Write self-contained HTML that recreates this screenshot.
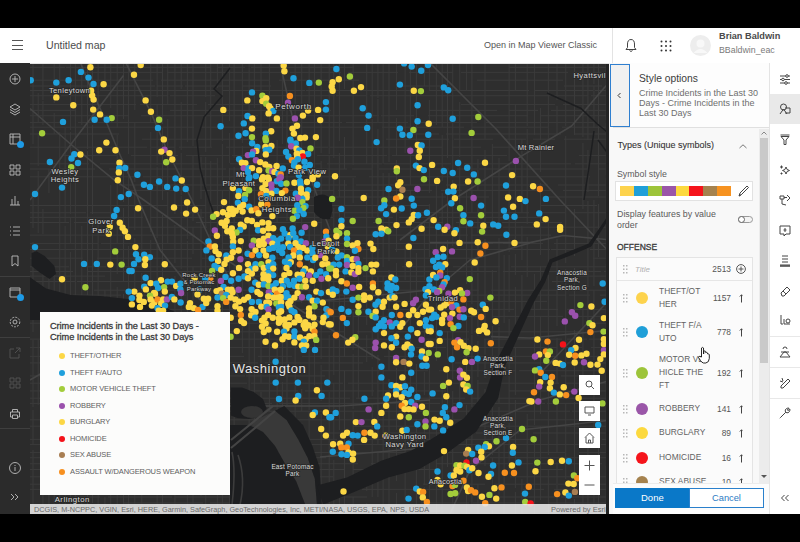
<!DOCTYPE html>
<html><head><meta charset="utf-8">
<style>
*{box-sizing:border-box;margin:0;padding:0}
html,body{width:800px;height:542px;overflow:hidden;background:#000;font-family:"Liberation Sans",sans-serif;position:relative}
.abs{position:absolute}
.t{position:absolute;white-space:nowrap;line-height:1}
#hdr{left:0;top:28px;width:800px;height:36px;background:#fff;border-bottom:1px solid #e3e3e3}
#ltb{left:0;top:63px;width:30px;height:451px;background:#2b2b2b}
#map{left:30px;top:64px;width:582px;height:450px;background:#2f2f2f;overflow:hidden}
#panel{left:609px;top:63px;width:160px;height:451px;background:#f8f8f8;overflow:hidden}
#rtb{left:769px;top:63px;width:31px;height:451px;background:#fff;border-left:1px solid #e4e4e4}
svg{position:absolute;overflow:visible}
.ic{stroke:#bdbdbd;fill:none;stroke-width:0.9}
.ri{stroke:#444;fill:none;stroke-width:1}
.sep{position:absolute;left:0;width:30px;height:1px;background:#3f3f3f}
.rsep{position:absolute;left:0;width:31px;height:1px;background:#e8e8e8}
.li{position:relative;height:16.5px;font-size:7.5px;line-height:16.5px;color:#606060;padding-left:11px;white-space:nowrap;letter-spacing:-0.12px}
.li i{position:absolute;left:0;top:5px;width:6px;height:6px;border-radius:50%}
.ctl{position:absolute;left:549px;width:21px;height:20px;background:#fff}
</style></head><body>
<!-- header -->
<div id="hdr" class="abs">
  <div class="abs" style="left:12px;top:12px;width:11px;height:1px;background:#555"></div>
  <div class="abs" style="left:12px;top:17px;width:11px;height:1px;background:#555"></div>
  <div class="abs" style="left:12px;top:21px;width:11px;height:1px;background:#555"></div>
  <div class="t" style="left:46px;top:12px;font-size:10.6px;color:#4c4c4c">Untitled map</div>
  <div class="t" style="left:484px;top:13px;font-size:9px;color:#555">Open in Map Viewer Classic</div>
  <div class="abs" style="left:612px;top:0;width:1px;height:35px;background:#e3e3e3"></div>
  <svg style="left:624px;top:10px" width="14" height="15" viewBox="0 0 14 15"><path class="ri" d="M7 1.5 C4.5 1.5 3.5 3.5 3.5 6 L3.5 9.5 L2 11.5 L12 11.5 L10.5 9.5 L10.5 6 C10.5 3.5 9.5 1.5 7 1.5 Z M5.5 12.5 Q7 14.5 8.5 12.5" stroke="#333"/></svg>
  <svg style="left:660px;top:12px" width="12" height="12" viewBox="0 0 12 12" fill="#333"><circle cx="1.5" cy="1.5" r="1"/><circle cx="6" cy="1.5" r="1"/><circle cx="10.5" cy="1.5" r="1"/><circle cx="1.5" cy="6" r="1"/><circle cx="6" cy="6" r="1"/><circle cx="10.5" cy="6" r="1"/><circle cx="1.5" cy="10.5" r="1"/><circle cx="6" cy="10.5" r="1"/><circle cx="10.5" cy="10.5" r="1"/></svg>
  <div class="abs" style="left:690px;top:7px;width:21px;height:21px;border-radius:50%;background:#ededed"></div>
  <svg style="left:690px;top:7px" width="21" height="21" viewBox="0 0 21 21"><circle cx="10.5" cy="8.5" r="4" fill="#f8f8f8"/><path d="M3.5 18 Q10.5 10 17.5 18" fill="#f8f8f8"/></svg>
  <div class="t" style="left:719px;top:4px;font-size:9.2px;font-weight:bold;color:#4a4a4a">Brian Baldwin</div>
  <div class="t" style="left:719px;top:18px;font-size:8.8px;color:#7a7a7a">BBaldwin_eac</div>
</div>

<!-- left toolbar -->
<div id="ltb" class="abs">
  <svg style="left:9px;top:10px" width="12" height="12"><circle class="ic" cx="6" cy="6" r="5"/><path class="ic" d="M6 3v6M3 6h6"/></svg>
  <svg style="left:9px;top:40px" width="12" height="12"><path class="ic" d="M6 1 L11 4 L6 7 L1 4 Z M1 6.5 L6 9.5 L11 6.5 M1 9 L6 12 L11 9"/></svg>
  <svg style="left:9px;top:70px" width="12" height="12"><path class="ic" d="M1 1h10v10h-10z M1 4h10 M4 1v10"/></svg>
  <div class="abs" style="left:17px;top:78px;width:7px;height:7px;border-radius:50%;background:#1d9ae6"></div>
  <svg style="left:9px;top:101px" width="12" height="12"><path class="ic" d="M1 1h4v4h-4z M7 1h4v4h-4z M1 7h4v4h-4z M7 7h4v4h-4z"/></svg>
  <svg style="left:9px;top:131px" width="12" height="12"><path class="ic" d="M1 11h10 M3 11v-6 M6 11v-9 M9 11v-4"/></svg>
  <svg style="left:9px;top:162px" width="12" height="12"><path class="ic" d="M4 2h7 M4 6h7 M4 10h7 M1 2h1 M1 6h1 M1 10h1"/></svg>
  <svg style="left:9px;top:192px" width="12" height="12"><path class="ic" d="M3 1h6v10l-3-2.5l-3 2.5z"/></svg>
  <div class="sep" style="top:213px"></div>
  <svg style="left:9px;top:223px" width="12" height="12"><path class="ic" d="M1 2h10v9h-10z M1 4h10"/></svg>
  <div class="abs" style="left:17px;top:231px;width:7px;height:7px;border-radius:50%;background:#1d9ae6"></div>
  <svg style="left:9px;top:253px" width="12" height="12"><circle class="ic" cx="6" cy="6" r="2"/><circle class="ic" cx="6" cy="6" r="4.8" stroke-dasharray="2 1.2"/></svg>
  <div class="sep" style="top:274px"></div>
  <svg style="left:9px;top:284px" width="12" height="12"><path class="ic" style="stroke:#555" d="M5 2h-4v9h9v-4 M7 1h4v4 M11 1l-5 5"/></svg>
  <svg style="left:9px;top:314px" width="12" height="12"><path class="ic" style="stroke:#555" d="M1 1h4v4h-4z M7 1h4v4h-4z M1 7h4v4h-4z M7 7h4v4h-4z"/></svg>
  <svg style="left:9px;top:345px" width="12" height="12"><path class="ic" d="M3.5 4V1.5h5V4 M1.5 4h9v5h-2 M3.5 9h-2v-5"/><path class="ic" d="M3.5 7h5v3.5h-5z" fill="#2b2b2b"/></svg>
  <div class="sep" style="top:365px"></div>
  <svg style="left:9px;top:399px" width="12" height="12"><circle class="ic" cx="6" cy="6" r="5.5"/><path class="ic" d="M6 5v4 M6 3v1"/></svg>
  <svg style="left:10px;top:430px" width="10" height="8"><path class="ic" d="M1 1l3 3l-3 3 M5 1l3 3l-3 3"/></svg>
</div>

<!-- map -->
<div id="map" class="abs">
<svg style="left:0;top:0" width="582" height="450" viewBox="30 64 582 450">
<defs><pattern id="grid" width="7" height="7" patternUnits="userSpaceOnUse"><path d="M0 0.5H7M0.5 0V7" stroke="#3b3b3b" stroke-width="1" fill="none"/></pattern></defs>
<rect x="30" y="64" width="582" height="450" fill="#2e2e2e"/>
<path d="M30 67.3H65M66 67.3H140M141 67.3H211M218 67.3H245M251 67.3H354M509 67.3H612M84 72.3H162M167 72.3H242M243 72.3H284M290 72.3H341M348 72.3H398M409 72.3H453M461 72.3H568M573 72.3H612M30 80.2H65M66 80.2H153M161 80.2H269M279 80.2H359M477 80.2H563M30 86.0H89M89 86.0H155M157 86.0H183M185 86.0H229M243 86.0H271M400 86.0H448M564 86.0H602M605 86.0H612M30 90.5H92M100 90.5H216M223 90.5H305M306 90.5H416M429 90.5H529M535 90.5H565M566 90.5H593M595 90.5H612M30 95.7H60M61 95.7H168M170 95.7H215M268 95.7H335M336 95.7H366M370 95.7H473M473 95.7H588M591 95.7H612M30 104.6H136M140 104.6H197M208 104.6H282M461 104.6H555M563 104.6H612M30 110.4H76M170 110.4H285M289 110.4H331M429 110.4H497M509 110.4H538M551 110.4H612M30 115.7H129M141 115.7H258M264 115.7H379M381 115.7H414M428 115.7H528M541 115.7H612M30 122.6H63M78 122.6H163M252 122.6H294M298 122.6H342M346 122.6H408M421 122.6H477M486 122.6H596M610 122.6H612M30 127.2H94M94 127.2H194M201 127.2H294M298 127.2H370M382 127.2H413M416 127.2H464M472 127.2H548M562 127.2H612M30 134.0H119M406 134.0H439M446 134.0H473M474 134.0H561M575 134.0H610M142 139.2H257M386 139.2H449M454 139.2H493M504 139.2H526M533 139.2H555M564 139.2H612M30 147.2H147M151 147.2H175M179 147.2H212M226 147.2H328M330 147.2H442M452 147.2H481M492 147.2H554M63 155.6H117M131 155.6H178M186 155.6H230M232 155.6H257M262 155.6H312M317 155.6H387M392 155.6H414M414 155.6H507M579 155.6H612M30 163.8H89M100 163.8H218M230 163.8H321M327 163.8H382M384 163.8H411M415 163.8H451M464 163.8H571M575 163.8H612M30 169.0H95M109 169.0H226M230 169.0H347M352 169.0H372M379 169.0H449M457 169.0H477M479 169.0H539M539 169.0H589M598 169.0H612M30 176.8H138M143 176.8H261M272 176.8H356M369 176.8H478M489 176.8H590M119 185.0H208M208 185.0H242M243 185.0H347M356 185.0H439M446 185.0H467M478 185.0H548M558 185.0H585M588 185.0H612M131 190.4H190M200 190.4H297M306 190.4H334M338 190.4H432M441 190.4H462M466 190.4H553M563 190.4H612M263 197.0H328M331 197.0H446M455 197.0H489M544 197.0H612M30 205.5H99M99 205.5H168M172 205.5H206M211 205.5H315M326 205.5H430M540 205.5H597M30 212.7H86M90 212.7H115M180 212.7H226M300 212.7H401M415 212.7H529M540 212.7H565M571 212.7H612M30 217.4H143M150 217.4H204M215 217.4H333M343 217.4H393M399 217.4H435M439 217.4H549M30 222.5H69M74 222.5H103M196 222.5H257M265 222.5H322M373 222.5H443M456 222.5H498M502 222.5H562M128 227.2H207M338 227.2H455M457 227.2H492M503 227.2H612M30 235.1H96M96 235.1H195M208 235.1H293M295 235.1H340M350 235.1H382M390 235.1H468M471 235.1H551M30 243.6H98M101 243.6H217M222 243.6H244M254 243.6H316M326 243.6H439M439 243.6H493M503 243.6H543M554 243.6H612M30 249.5H132M135 249.5H231M246 249.5H315M319 249.5H380M395 249.5H429M432 249.5H550M551 249.5H577M590 249.5H612M30 258.2H83M97 258.2H192M202 258.2H259M264 258.2H301M363 258.2H479M593 258.2H612M30 266.8H69M83 266.8H106M118 266.8H215M402 266.8H448M453 266.8H500M511 266.8H612M30 271.5H73M88 271.5H203M207 271.5H270M333 271.5H435M445 271.5H497M503 271.5H601M604 271.5H612M30 276.1H105M232 276.1H261M268 276.1H359M363 276.1H424M576 276.1H612M30 281.5H75M77 281.5H185M311 281.5H430M552 281.5H576M94 290.2H140M154 290.2H185M194 290.2H236M238 290.2H278M287 290.2H372M373 290.2H425M428 290.2H479M491 290.2H566M568 290.2H612M30 295.1H66M73 295.1H121M135 295.1H186M268 295.1H325M336 295.1H376M458 295.1H566M569 295.1H590M600 295.1H612M30 301.3H100M262 301.3H302M316 301.3H433M434 301.3H547M30 309.3H72M85 309.3H188M191 309.3H251M257 309.3H289M300 309.3H410M418 309.3H514M526 309.3H558M567 309.3H612M30 316.4H93M99 316.4H163M172 316.4H241M253 316.4H351M353 316.4H421M423 316.4H486M492 316.4H563M573 316.4H601M30 323.2H55M61 323.2H176M189 323.2H309M586 323.2H612M153 331.8H199M204 331.8H228M230 331.8H344M357 331.8H394M396 331.8H469M474 331.8H582M590 331.8H612M30 339.1H89M93 339.1H212M218 339.1H314M317 339.1H411M424 339.1H469M484 339.1H562M567 339.1H587M589 339.1H612M30 347.6H63M73 347.6H95M101 347.6H131M135 347.6H213M216 347.6H298M300 347.6H414M416 347.6H446M459 347.6H557M561 347.6H582M591 347.6H612M30 356.3H123M137 356.3H161M167 356.3H211M223 356.3H244M258 356.3H292M302 356.3H372M384 356.3H422M463 356.3H555M567 356.3H612M30 362.9H73M76 362.9H100M211 362.9H258M265 362.9H363M455 362.9H563M567 362.9H610M141 370.7H230M322 370.7H428M439 370.7H516M519 370.7H601M30 375.9H53M67 375.9H121M122 375.9H146M155 375.9H245M246 375.9H325M561 375.9H592M30 383.2H133M137 383.2H167M178 383.2H219M225 383.2H247M251 383.2H343M348 383.2H464M477 383.2H559M565 383.2H612M30 390.9H104M148 390.9H168M180 390.9H298M305 390.9H374M377 390.9H446M509 390.9H551M558 390.9H589M590 390.9H612M30 398.2H86M91 398.2H201M214 398.2H236M240 398.2H350M356 398.2H465M471 398.2H545M556 398.2H612M30 403.4H134M145 403.4H182M194 403.4H272M279 403.4H387M390 403.4H440M453 403.4H488M492 403.4H545M547 403.4H600M132 411.2H225M228 411.2H312M315 411.2H374M380 411.2H479M487 411.2H570M572 411.2H612M30 419.8H93M104 419.8H166M177 419.8H285M296 419.8H401M411 419.8H476M485 419.8H515M527 419.8H612M30 426.2H96M192 426.2H277M353 426.2H427M439 426.2H553M554 426.2H612M186 433.0H274M323 433.0H349M355 433.0H376M383 433.0H473M476 433.0H519M533 433.0H606M30 439.3H71M83 439.3H184M191 439.3H267M282 439.3H337M349 439.3H451M455 439.3H530M602 439.3H612M30 444.6H50M54 444.6H99M106 444.6H169M287 444.6H386M398 444.6H481M482 444.6H597M601 444.6H612M30 452.6H85M98 452.6H197M211 452.6H292M302 452.6H411M424 452.6H463M471 452.6H565M579 452.6H612M30 457.7H99M106 457.7H141M222 457.7H326M490 457.7H574M574 457.7H612M30 463.7H148M155 463.7H265M276 463.7H358M371 463.7H428M436 463.7H533M540 463.7H602M30 469.5H133M140 469.5H187M202 469.5H288M293 469.5H344M353 469.5H437M538 469.5H563M611 469.5H612M30 476.8H112M122 476.8H202M205 476.8H292M303 476.8H333M510 476.8H586M590 476.8H612M30 484.2H143M152 484.2H176M272 484.2H294M423 484.2H485M494 484.2H536M536 484.2H556M558 484.2H612M30 489.3H52M55 489.3H149M150 489.3H247M260 489.3H353M362 489.3H453M523 489.3H544M554 489.3H612M74 497.0H100M108 497.0H172M175 497.0H274M284 497.0H367M483 497.0H560M561 497.0H612M123 503.0H203M210 503.0H318M421 503.0H469M473 503.0H535M548 503.0H612M30 511.2H137M256 511.2H368M369 511.2H444M546 511.2H612M33.0 64V144M33.0 190V228M33.0 242V332M33.0 340V407M33.0 410V444M33.0 450V514M38.2 93V122M38.2 133V166M38.2 171V233M38.2 340V405M42.9 64V100M42.9 101V125M42.9 209V234M42.9 273V338M42.9 353V426M42.9 481V514M48.9 169V193M48.9 276V307M48.9 321V396M48.9 404V485M48.9 490V514M54.2 64V103M54.2 113V134M54.2 271V303M54.2 408V464M54.2 476V514M59.7 64V89M59.7 132V185M59.7 189V277M59.7 279V338M59.7 382V474M59.7 477V514M65.1 128V222M65.1 226V318M65.1 373V457M65.1 487V514M70.6 64V130M70.6 132V214M70.6 217V243M70.6 252V312M70.6 315V384M70.6 396V463M70.6 464V514M75.3 64V149M75.3 161V251M75.3 251V344M75.3 357V398M75.3 411V460M75.3 465V514M81.8 64V125M81.8 226V303M81.8 353V413M81.8 421V484M81.8 499V514M87.5 64V149M87.5 151V227M87.5 227V295M87.5 303V379M87.5 392V469M87.5 471V514M92.5 64V116M92.5 125V214M92.5 223V303M92.5 315V410M92.5 416V503M92.5 509V514M98.1 64V111M98.1 222V310M98.1 418V472M98.1 477V514M104.9 64V86M104.9 290V313M104.9 317V391M104.9 399V493M104.9 497V514M110.7 64V108M110.7 185V227M110.7 235V267M110.7 269V312M110.7 317V356M110.7 364V451M110.7 460V514M117.2 64V128M117.2 135V180M117.2 183V244M117.2 253V274M117.2 287V326M117.2 380V462M117.2 463V514M123.5 64V119M123.5 170V202M123.5 208V282M123.5 294V380M123.5 391V471M123.5 478V514M128.6 64V154M128.6 165V232M128.6 246V312M128.6 324V414M128.6 419V476M128.6 487V514M134.8 64V110M134.8 123V182M134.8 185V230M134.8 238V305M134.8 377V474M134.8 480V514M141.8 206V268M141.8 273V322M141.8 327V423M141.8 431V459M141.8 465V514M150.7 64V123M150.7 132V232M150.7 240V325M157.1 64V97M157.1 104V165M157.1 167V238M157.1 243V343M157.1 343V396M157.1 401V476M157.1 480V514M162.5 64V124M162.5 128V200M162.5 215V280M162.5 282V315M162.5 316V344M162.5 352V438M162.5 450V475M162.5 487V514M167.7 64V105M167.7 119V185M167.7 192V243M167.7 330V399M174.9 64V161M174.9 175V214M174.9 225V263M174.9 276V335M174.9 339V372M174.9 375V473M174.9 481V511M181.2 64V89M181.2 102V150M181.2 153V195M181.2 196V269M181.2 271V348M181.2 352V439M187.3 64V142M187.3 200V239M187.3 241V317M187.3 331V398M187.3 401V470M187.3 483V513M193.0 64V146M193.0 156V221M193.0 227V254M193.0 267V312M193.0 314V379M193.0 386V430M193.0 435V473M193.0 484V514M201.0 157V199M201.0 209V282M201.0 288V361M201.0 365V452M201.0 462V496M201.0 510V514M205.7 64V97M205.7 102V152M205.7 157V228M205.7 240V306M205.7 310V365M205.7 401V444M205.7 457V514M210.7 64V147M210.7 161V241M210.7 251V303M210.7 315V358M217.3 64V88M217.3 158V239M217.3 249V334M217.3 342V439M217.3 447V487M217.3 493V514M222.4 64V141M222.4 144V183M222.4 190V285M222.4 289V380M222.4 444V514M229.6 64V121M229.6 133V163M229.6 168V204M229.6 209V244M229.6 251V280M229.6 287V336M229.6 369V396M229.6 411V476M229.6 483V514M234.1 64V158M234.1 167V262M234.1 266V305M234.1 392V427M234.1 440V514M242.3 64V143M242.3 146V232M242.3 238V302M242.3 314V353M249.1 64V97M249.1 105V132M249.1 191V214M249.1 217V295M249.1 307V396M249.1 402V445M249.1 453V506M254.3 64V108M254.3 116V164M254.3 165V211M254.3 333V430M254.3 442V467M254.3 476V514M261.0 64V136M261.0 141V232M261.0 235V309M261.0 310V383M261.0 392V445M261.0 453V505M261.0 508V514M269.4 64V104M269.4 112V152M269.4 161V199M269.4 200V262M269.4 263V315M269.4 322V411M269.4 422V502M277.1 140V222M277.1 234V258M277.1 264V285M277.1 288V332M277.1 339V430M282.4 64V144M282.4 231V281M282.4 295V373M282.4 382V410M282.4 461V502M282.4 508V514M287.0 96V160M287.0 170V221M287.0 234V297M287.0 309V405M287.0 410V442M287.0 455V514M295.1 64V138M295.1 184V274M295.1 275V321M295.1 335V402M295.1 404V453M295.1 462V513M295.1 513V514M301.7 64V163M301.7 165V239M301.7 243V303M301.7 389V411M301.7 423V513M309.1 64V113M309.1 225V269M309.1 280V341M309.1 346V410M309.1 411V458M309.1 473V514M314.6 64V112M314.6 112V202M314.6 208V274M314.6 276V302M314.6 306V385M314.6 455V481M314.6 490V514M321.1 64V153M321.1 161V253M321.1 257V278M321.1 282V359M321.1 365V401M321.1 414V486M321.1 497V514M329.2 64V154M329.2 156V191M329.2 279V325M329.2 335V387M329.2 392V417M329.2 417V487M329.2 495V514M333.8 64V158M333.8 173V197M333.8 208V255M333.8 257V288M333.8 290V375M333.8 383V450M333.8 460V514M339.4 64V141M339.4 153V197M339.4 212V268M339.4 276V371M339.4 371V430M339.4 494V514M344.5 64V89M344.5 137V169M344.5 180V274M344.5 274V357M344.5 371V431M344.5 436V514M353.1 64V93M353.1 94V165M353.1 178V203M353.1 312V350M353.1 354V409M353.1 412V492M353.1 497V514M358.3 241V288M358.3 301V334M358.3 343V399M366.7 64V164M366.7 193V286M366.7 297V325M366.7 335V362M366.7 468V491M366.7 503V514M372.2 64V118M372.2 119V218M372.2 231V261M372.2 263V317M372.2 327V359M372.2 367V396M372.2 403V497M377.9 64V98M377.9 99V123M377.9 129V193M377.9 193V269M377.9 277V341M377.9 355V445M377.9 451V497M377.9 511V514M383.1 64V164M383.1 173V267M383.1 276V326M383.1 370V463M383.1 474V514M389.0 64V162M389.0 173V261M389.0 270V370M389.0 379V459M389.0 469V514M396.6 64V110M396.6 118V156M396.6 160V252M396.6 263V325M396.6 368V430M396.6 442V481M396.6 493V514M405.1 64V153M405.1 248V280M405.1 338V394M405.1 400V500M405.1 506V514M410.3 64V138M410.3 146V185M410.3 190V241M410.3 244V309M410.3 312V390M410.3 509V514M416.4 64V88M416.4 93V170M416.4 253V304M416.4 364V414M416.4 419V444M416.4 450V512M424.3 64V86M424.3 221V280M424.3 292V366M424.3 372V395M424.3 404V485M424.3 487V514M429.3 64V91M429.3 100V124M429.3 135V193M429.3 204V257M429.3 360V406M429.3 406V505M429.3 509V514M436.3 64V125M436.3 182V271M436.3 274V298M436.3 303V361M436.3 422V514M442.2 64V127M442.2 135V181M442.2 193V236M442.2 248V316M442.2 386V441M442.2 442V514M447.5 64V158M447.5 170V230M447.5 240V283M447.5 331V359M447.5 371V467M452.7 64V89M452.7 89V176M452.7 180V246M452.7 292V379M452.7 391V489M452.7 490V514M459.7 64V91M459.7 102V157M459.7 159V245M459.7 366V409M466.6 64V91M466.6 190V284M466.6 293V390M466.6 405V477M466.6 482V514M471.9 64V147M471.9 148V213M471.9 221V304M471.9 311V334M471.9 335V407M471.9 416V464M471.9 474V507M477.9 159V191M477.9 204V233M477.9 241V271M477.9 273V336M477.9 341V377M477.9 380V410M477.9 484V514M485.0 64V139M485.0 150V183M485.0 183V235M485.0 239V330M485.0 339V378M485.0 389V466M492.3 144V229M492.3 270V323M492.3 326V405M492.3 407V455M492.3 458V495M492.3 510V514M499.0 158V229M499.0 238V326M499.0 327V404M499.0 407V504M504.1 255V323M504.1 422V514M509.1 64V161M509.1 165V252M509.1 255V312M509.1 319V412M509.1 423V474M515.4 64V91M515.4 104V151M515.4 163V247M515.4 254V275M515.4 287V341M515.4 348V395M515.4 400V488M515.4 492V514M521.9 139V213M521.9 226V260M521.9 275V324M521.9 479V514M527.2 64V126M527.2 129V224M527.2 237V277M527.2 414V487M534.6 64V135M534.6 274V361M534.6 369V425M534.6 438V514M540.6 108V140M540.6 149V172M540.6 183V255M540.6 266V310M540.6 316V414M540.6 426V500M548.3 64V139M548.3 220V267M548.3 275V365M548.3 376V410M548.3 411V455M548.3 469V514M557.0 64V100M557.0 106V135M557.0 239V326M557.0 338V383M557.0 394V452M557.0 462V514M565.7 64V126M565.7 136V177M565.7 177V263M565.7 269V364M565.7 367V393M565.7 404V479M565.7 491V514M574.5 64V135M574.5 209V256M574.5 268V316M574.5 330V392M574.5 402V494M574.5 499V514M582.9 64V137M582.9 143V209M582.9 307V381M582.9 492V514M587.9 64V140M587.9 150V192M587.9 201V287M587.9 290V328M587.9 441V514M593.9 64V84M593.9 86V128M593.9 200V286M593.9 290V360M593.9 365V430M593.9 491V514M598.5 64V124M598.5 125V196M598.5 204V257M598.5 408V507M598.5 514V514M606.2 64V120M606.2 123V175M606.2 178V257M606.2 264V300M606.2 303V344M606.2 354V452M606.2 466V514M611.0 64V100M611.0 113V191M611.0 195V244M611.0 253V352M611.0 353V387M611.0 401V485M611.0 486V514" stroke="#3b3b3b" stroke-width="1" fill="none"/>
<path d="M80.6 63 L90.7 88.3 L105.9 121 L118.5 151.5 L131 179.3 L138.7 200 L160 250 L200 300" stroke="#454545" stroke-width="1.6" fill="none" stroke-linejoin="round"/>
<path d="M126 63 L151.4 113.6 L166.5 149 L181.7 179.3 L191.8 200 L215 250 L240 300" stroke="#454545" stroke-width="1.6" fill="none" stroke-linejoin="round"/>
<path d="M30 108.5 L70.5 144 L113.4 179.3 L143.8 200 L230 262 L300 310 L380 360" stroke="#454545" stroke-width="1.6" fill="none" stroke-linejoin="round"/>
<path d="M123.5 75.6 L73 141.4 L30 200" stroke="#454545" stroke-width="1.6" fill="none" stroke-linejoin="round"/>
<path d="M430 63 L495.8 128.7 L560 200 L612 255" stroke="#454545" stroke-width="1.6" fill="none" stroke-linejoin="round"/>
<path d="M400 240 L452.8 200 L521 156.4 L571.6 126 L604 88 L612 80" stroke="#454545" stroke-width="1.6" fill="none" stroke-linejoin="round"/>
<path d="M430 242.6 L530 242.6 L563 235.5 L612 240" stroke="#454545" stroke-width="1.6" fill="none" stroke-linejoin="round"/>
<path d="M491 336.6 L530 338 L612 330" stroke="#454545" stroke-width="1.6" fill="none" stroke-linejoin="round"/>
<path d="M542.8 370.7 L606.7 302.5 L612 296" stroke="#454545" stroke-width="1.6" fill="none" stroke-linejoin="round"/>
<path d="M230 406 L340 406 L430 400" stroke="#454545" stroke-width="1.6" fill="none" stroke-linejoin="round"/>
<path d="M320 457 L419 448.5 L470 430 L540 400 L612 380" stroke="#454545" stroke-width="1.6" fill="none" stroke-linejoin="round"/>
<path d="M230 300 L330 300 L430 290" stroke="#454545" stroke-width="1.6" fill="none" stroke-linejoin="round"/>
<path d="M280 63 L300 150 L330 230" stroke="#454545" stroke-width="1.6" fill="none" stroke-linejoin="round"/>
<path d="M400 330 L430 294 L470 260 L530 243" stroke="#454545" stroke-width="1.6" fill="none" stroke-linejoin="round"/>
<path d="M30 380 L100 340 L160 330" stroke="#454545" stroke-width="1.6" fill="none" stroke-linejoin="round"/>
<path d="M450 514 L470 470 L520 430 L612 420" stroke="#454545" stroke-width="1.6" fill="none" stroke-linejoin="round"/>
<path d="M249 423.7 L275 410.8 L286.6 420 L298 439 L307.7 457.7 L314.8 478.8 L317 505 L305.4 505 L296 481 L284 462 L275 446 L263 432 Z" fill="#393939"/>
<path d="M31.6 252.9 L36.5 251.2 L44.6 256 L54.4 265.9 L56 274 L49.5 278.9 L39.75 272.4 L31.6 265.9 Z" fill="#1d1e20"/>
<path d="M30 277.2 L46 288.6 L70.6 295 L100 296 L127.5 299 L160 305 L175 312 L175 320 L30 320 Z" fill="#1d1e20"/>
<path d="M230.8 387.4 L242 387.4 L253.8 392 L263 399 L266.7 408.5 L260.8 415.5 L249 419 L237.4 418 L230.8 415.5 Z" fill="#1d1e20"/>
<path d="M230 425 L249 425 L263 432 L275 446 L284 462 L296 481 L305.4 505 L230 505 Z" fill="#1d1e20"/>
<path d="M275 410.8 L284.3 406 L303 425 L312.4 446 L319.5 467 L321.8 505 L317 505 L314.8 478.8 L307.7 457.7 L298 439 L286.6 420 Z" fill="#1d1e20"/>
<path d="M314 197 Q324 191 331 199 Q334 210 330 219 Q320 221 314 212 Z" fill="#1d1e20"/>
<path d="M610.8 211.2 L602.8 223.2 L588.7 243.5 L570.2 251.1 L549.6 259.6 L540.8 279.9 L528.3 299.6 L511.4 332.3 L495.3 363.2 L485.7 391.9 L463.7 418.6 L435.6 436.6 L411.1 450.8 L381.8 460.6 L347.0 477.6 L316.8 485.5 L323.2 504.5 L353.0 492.4 L388.2 477.4 L418.9 469.2 L446.4 453.4 L476.3 431.4 L498.3 398.1 L504.7 366.8 L518.6 335.7 L533.7 302.4 L545.2 282.1 L552.4 262.4 L571.8 254.9 L591.3 246.5 L605.2 224.8 L613.2 212.8 Z" fill="#1d1e20"/>
<ellipse cx="252" cy="412" rx="11" ry="6" fill="#343434"/>
<path d="M231 448 L255 428 L275 411 M231 440 L252 423 L273 406" stroke="#444" stroke-width="2.2" fill="none"/>
<path d="M232 505 Q236 470 232 452 M240 505 Q246 478 238 455" stroke="#3c3c3c" stroke-width="1.6" fill="none"/>
<path d="M230 68 L214 89 L222 96 L204 117 L197 140 L200 168 L205 187 L210 203 L215 217" stroke="#1d1e20" stroke-width="1.5" fill="none"/>
<path d="M547 93 L581 108.5 L597 123.8 L612 136" stroke="#1d1e20" stroke-width="1.5" fill="none"/>
<path d="M594 131 L590 160 L584 200" stroke="#1d1e20" stroke-width="1.5" fill="none"/>
<path d="M598 140 L609 155" stroke="#1d1e20" stroke-width="1.5" fill="none"/>
</svg>
<svg style="left:0;top:0" width="582" height="450" viewBox="30 64 582 450" font-family="Liberation Sans, sans-serif">
<circle cx="164.5" cy="149.7" r="3.2" fill="#9b51ad"/>
<circle cx="161.2" cy="151.6" r="3.2" fill="#fcd745"/>
<circle cx="169.5" cy="153.1" r="3.2" fill="#fcd745"/>
<circle cx="172.3" cy="159.5" r="3.2" fill="#fcd745"/>
<circle cx="166.2" cy="162.3" r="3.2" fill="#a3cd3b"/>
<circle cx="137.4" cy="174.8" r="3.2" fill="#1fa0dc"/>
<circle cx="175.5" cy="178.4" r="3.2" fill="#1fa0dc"/>
<circle cx="181.8" cy="180.5" r="3.2" fill="#fcd745"/>
<circle cx="159.1" cy="181.5" r="3.2" fill="#1fa0dc"/>
<circle cx="143.9" cy="184.7" r="3.2" fill="#1fa0dc"/>
<circle cx="149.9" cy="186.9" r="3.2" fill="#1fa0dc"/>
<circle cx="167.2" cy="186.9" r="3.2" fill="#1fa0dc"/>
<circle cx="176.2" cy="188.6" r="3.2" fill="#1fa0dc"/>
<circle cx="185.7" cy="189.0" r="3.2" fill="#1fa0dc"/>
<circle cx="187.1" cy="202.5" r="3.2" fill="#fcd745"/>
<circle cx="224.0" cy="202.1" r="3.2" fill="#fcd745"/>
<circle cx="138.1" cy="208.2" r="3.2" fill="#fcd745"/>
<circle cx="174.0" cy="207.5" r="3.2" fill="#fcd745"/>
<circle cx="195.1" cy="209.6" r="3.2" fill="#fcd745"/>
<circle cx="186.1" cy="213.6" r="3.2" fill="#fcd745"/>
<circle cx="223.0" cy="212.2" r="3.2" fill="#fcd745"/>
<circle cx="229.4" cy="208.9" r="3.2" fill="#fcd745"/>
<circle cx="216.6" cy="214.1" r="3.2" fill="#fcd745"/>
<circle cx="228.0" cy="215.0" r="3.2" fill="#fcd745"/>
<circle cx="213.1" cy="216.7" r="3.2" fill="#a3cd3b"/>
<circle cx="221.6" cy="222.7" r="3.2" fill="#fcd745"/>
<circle cx="226.6" cy="221.0" r="3.2" fill="#fcd745"/>
<circle cx="224.9" cy="225.8" r="3.2" fill="#fcd745"/>
<circle cx="214.8" cy="230.5" r="3.2" fill="#9b51ad"/>
<circle cx="227.3" cy="231.2" r="3.2" fill="#fcd745"/>
<circle cx="216.9" cy="235.8" r="3.2" fill="#fcd745"/>
<circle cx="208.4" cy="241.4" r="3.2" fill="#1fa0dc"/>
<circle cx="209.8" cy="246.5" r="3.2" fill="#f7901f"/>
<circle cx="214.9" cy="246.5" r="3.2" fill="#fcd745"/>
<circle cx="206.4" cy="250.4" r="3.2" fill="#1fa0dc"/>
<circle cx="215.5" cy="251.1" r="3.2" fill="#fcd745"/>
<circle cx="218.8" cy="254.2" r="3.2" fill="#fcd745"/>
<circle cx="226.3" cy="255.4" r="3.2" fill="#1fa0dc"/>
<circle cx="226.6" cy="259.6" r="3.2" fill="#fcd745"/>
<circle cx="211.7" cy="258.5" r="3.2" fill="#1fa0dc"/>
<circle cx="218.1" cy="261.0" r="3.2" fill="#fcd745"/>
<circle cx="224.5" cy="263.9" r="3.2" fill="#fcd745"/>
<circle cx="214.5" cy="266.0" r="3.2" fill="#1fa0dc"/>
<circle cx="218.1" cy="267.9" r="3.2" fill="#1fa0dc"/>
<circle cx="221.2" cy="269.8" r="3.2" fill="#fcd745"/>
<circle cx="212.1" cy="271.0" r="3.2" fill="#a3cd3b"/>
<circle cx="135.4" cy="247.1" r="3.2" fill="#fcd745"/>
<circle cx="136.0" cy="254.2" r="3.2" fill="#1fa0dc"/>
<circle cx="144.2" cy="254.6" r="3.2" fill="#1fa0dc"/>
<circle cx="149.9" cy="257.1" r="3.2" fill="#1fa0dc"/>
<circle cx="138.5" cy="259.3" r="3.2" fill="#1fa0dc"/>
<circle cx="145.3" cy="259.3" r="3.2" fill="#fcd745"/>
<circle cx="144.9" cy="265.0" r="3.2" fill="#fcd745"/>
<circle cx="134.0" cy="263.9" r="3.2" fill="#1fa0dc"/>
<circle cx="164.8" cy="264.2" r="3.2" fill="#fcd745"/>
<circle cx="131.7" cy="271.0" r="3.2" fill="#1fa0dc"/>
<circle cx="145.6" cy="277.8" r="3.2" fill="#1fa0dc"/>
<circle cx="161.0" cy="280.2" r="3.2" fill="#fcd745"/>
<circle cx="167.6" cy="281.6" r="3.2" fill="#1fa0dc"/>
<circle cx="171.9" cy="281.6" r="3.2" fill="#1fa0dc"/>
<circle cx="176.2" cy="285.9" r="3.2" fill="#fcd745"/>
<circle cx="150.6" cy="283.1" r="3.2" fill="#fcd745"/>
<circle cx="156.3" cy="283.8" r="3.2" fill="#1fa0dc"/>
<circle cx="144.2" cy="286.6" r="3.2" fill="#1fa0dc"/>
<circle cx="145.9" cy="289.4" r="3.2" fill="#fcd745"/>
<circle cx="164.1" cy="287.3" r="3.2" fill="#a3cd3b"/>
<circle cx="158.1" cy="288.0" r="3.2" fill="#1fa0dc"/>
<circle cx="134.3" cy="291.6" r="3.2" fill="#fcd745"/>
<circle cx="164.8" cy="291.6" r="3.2" fill="#fcd745"/>
<circle cx="180.4" cy="283.8" r="3.2" fill="#1fa0dc"/>
<circle cx="180.4" cy="289.4" r="3.2" fill="#1fa0dc"/>
<circle cx="181.1" cy="293.0" r="3.2" fill="#9b51ad"/>
<circle cx="154.1" cy="293.0" r="3.2" fill="#fcd745"/>
<circle cx="225.5" cy="276.9" r="3.2" fill="#1fa0dc"/>
<circle cx="220.9" cy="280.9" r="3.2" fill="#9b51ad"/>
<circle cx="223.5" cy="286.9" r="3.2" fill="#1fa0dc"/>
<circle cx="228.0" cy="289.7" r="3.2" fill="#fcd745"/>
<circle cx="216.6" cy="291.1" r="3.2" fill="#fcd745"/>
<circle cx="219.9" cy="290.2" r="3.2" fill="#fcd745"/>
<circle cx="210.3" cy="278.4" r="3.2" fill="#f7901f"/>
<circle cx="194.6" cy="278.4" r="3.2" fill="#fcd745"/>
<circle cx="205.3" cy="278.8" r="3.2" fill="#1fa0dc"/>
<circle cx="199.6" cy="289.4" r="3.2" fill="#1fa0dc"/>
<circle cx="131.9" cy="298.1" r="3.2" fill="#1fa0dc"/>
<circle cx="131.9" cy="304.4" r="3.2" fill="#fcd745"/>
<circle cx="139.4" cy="295.6" r="3.2" fill="#fcd745"/>
<circle cx="139.4" cy="300.0" r="3.2" fill="#fcd745"/>
<circle cx="143.8" cy="301.9" r="3.2" fill="#fcd745"/>
<circle cx="140.0" cy="306.9" r="3.2" fill="#fcd745"/>
<circle cx="155.0" cy="293.8" r="3.2" fill="#fcd745"/>
<circle cx="150.0" cy="295.6" r="3.2" fill="#a3cd3b"/>
<circle cx="150.6" cy="299.4" r="3.2" fill="#fcd745"/>
<circle cx="154.4" cy="302.5" r="3.2" fill="#fcd745"/>
<circle cx="157.5" cy="299.4" r="3.2" fill="#f7901f"/>
<circle cx="163.1" cy="299.4" r="3.2" fill="#fcd745"/>
<circle cx="166.9" cy="299.4" r="3.2" fill="#9b51ad"/>
<circle cx="161.2" cy="303.8" r="3.2" fill="#fcd745"/>
<circle cx="165.0" cy="305.6" r="3.2" fill="#1fa0dc"/>
<circle cx="151.9" cy="305.6" r="3.2" fill="#fcd745"/>
<circle cx="157.5" cy="308.1" r="3.2" fill="#1fa0dc"/>
<circle cx="158.8" cy="310.6" r="3.2" fill="#fcd745"/>
<circle cx="163.1" cy="310.6" r="3.2" fill="#fcd745"/>
<circle cx="171.9" cy="296.9" r="3.2" fill="#1fa0dc"/>
<circle cx="174.4" cy="299.4" r="3.2" fill="#fcd745"/>
<circle cx="180.6" cy="302.5" r="3.2" fill="#1fa0dc"/>
<circle cx="197.5" cy="294.4" r="3.2" fill="#fcd745"/>
<circle cx="190.0" cy="303.1" r="3.2" fill="#fcd745"/>
<circle cx="188.8" cy="306.9" r="3.2" fill="#fcd745"/>
<circle cx="193.8" cy="308.1" r="3.2" fill="#fcd745"/>
<circle cx="202.5" cy="306.9" r="3.2" fill="#1fa0dc"/>
<circle cx="198.1" cy="310.0" r="3.2" fill="#f7901f"/>
<circle cx="203.8" cy="298.8" r="3.2" fill="#fcd745"/>
<circle cx="208.1" cy="298.8" r="3.2" fill="#fcd745"/>
<circle cx="206.2" cy="303.1" r="3.2" fill="#fcd745"/>
<circle cx="221.9" cy="293.8" r="3.2" fill="#a87e52"/>
<circle cx="217.5" cy="297.5" r="3.2" fill="#1fa0dc"/>
<circle cx="226.2" cy="295.0" r="3.2" fill="#1fa0dc"/>
<circle cx="223.1" cy="298.1" r="3.2" fill="#a3cd3b"/>
<circle cx="226.2" cy="301.9" r="3.2" fill="#f7901f"/>
<circle cx="217.5" cy="306.2" r="3.2" fill="#fcd745"/>
<circle cx="217.5" cy="310.6" r="3.2" fill="#fcd745"/>
<circle cx="140.7" cy="65.1" r="3.2" fill="#fcd745"/>
<circle cx="134.0" cy="74.8" r="3.2" fill="#fcd745"/>
<circle cx="145.6" cy="100.4" r="3.2" fill="#fcd745"/>
<circle cx="150.9" cy="111.7" r="3.2" fill="#fcd745"/>
<circle cx="159.1" cy="119.8" r="3.2" fill="#a3cd3b"/>
<circle cx="158.0" cy="127.9" r="3.2" fill="#1fa0dc"/>
<circle cx="163.8" cy="139.4" r="3.2" fill="#fcd745"/>
<circle cx="223.3" cy="109.9" r="3.2" fill="#fcd745"/>
<circle cx="220.6" cy="126.2" r="3.2" fill="#1fa0dc"/>
<circle cx="252.1" cy="143.2" r="3.2" fill="#1fa0dc"/>
<circle cx="265.8" cy="140.4" r="3.2" fill="#a3cd3b"/>
<circle cx="271.4" cy="146.0" r="3.2" fill="#fcd745"/>
<circle cx="265.4" cy="147.0" r="3.2" fill="#fcd745"/>
<circle cx="257.3" cy="147.0" r="3.2" fill="#1fa0dc"/>
<circle cx="256.3" cy="150.9" r="3.2" fill="#fcd745"/>
<circle cx="265.8" cy="150.2" r="3.2" fill="#1fa0dc"/>
<circle cx="269.3" cy="149.8" r="3.2" fill="#1fa0dc"/>
<circle cx="265.8" cy="154.4" r="3.2" fill="#fcd745"/>
<circle cx="253.1" cy="151.6" r="3.2" fill="#9b51ad"/>
<circle cx="247.9" cy="155.1" r="3.2" fill="#9b51ad"/>
<circle cx="252.1" cy="154.4" r="3.2" fill="#1fa0dc"/>
<circle cx="239.1" cy="159.3" r="3.2" fill="#1fa0dc"/>
<circle cx="255.9" cy="160.3" r="3.2" fill="#9b51ad"/>
<circle cx="260.2" cy="162.1" r="3.2" fill="#fcd745"/>
<circle cx="241.9" cy="162.8" r="3.2" fill="#fcd745"/>
<circle cx="245.4" cy="163.1" r="3.2" fill="#fcd745"/>
<circle cx="265.4" cy="164.5" r="3.2" fill="#fcd745"/>
<circle cx="269.3" cy="167.0" r="3.2" fill="#fcd745"/>
<circle cx="276.6" cy="165.9" r="3.2" fill="#fcd745"/>
<circle cx="243.7" cy="168.1" r="3.2" fill="#9b51ad"/>
<circle cx="248.6" cy="168.1" r="3.2" fill="#1fa0dc"/>
<circle cx="252.1" cy="168.1" r="3.2" fill="#fcd745"/>
<circle cx="259.1" cy="170.2" r="3.2" fill="#fcd745"/>
<circle cx="268.6" cy="170.5" r="3.2" fill="#a3cd3b"/>
<circle cx="272.1" cy="171.2" r="3.2" fill="#9b51ad"/>
<circle cx="274.5" cy="171.9" r="3.2" fill="#fcd745"/>
<circle cx="278.4" cy="173.7" r="3.2" fill="#1fa0dc"/>
<circle cx="247.9" cy="171.9" r="3.2" fill="#1fa0dc"/>
<circle cx="255.9" cy="176.1" r="3.2" fill="#1fa0dc"/>
<circle cx="249.3" cy="177.2" r="3.2" fill="#1fa0dc"/>
<circle cx="263.0" cy="177.2" r="3.2" fill="#fcd745"/>
<circle cx="267.9" cy="177.5" r="3.2" fill="#fcd745"/>
<circle cx="290.5" cy="141.1" r="3.2" fill="#1fa0dc"/>
<circle cx="295.8" cy="143.5" r="3.2" fill="#1fa0dc"/>
<circle cx="291.2" cy="146.3" r="3.2" fill="#9b51ad"/>
<circle cx="296.5" cy="148.8" r="3.2" fill="#fcd745"/>
<circle cx="310.5" cy="148.4" r="3.2" fill="#a3cd3b"/>
<circle cx="286.0" cy="151.9" r="3.2" fill="#1fa0dc"/>
<circle cx="299.3" cy="150.5" r="3.2" fill="#1fa0dc"/>
<circle cx="302.4" cy="153.0" r="3.2" fill="#fcd745"/>
<circle cx="296.8" cy="153.7" r="3.2" fill="#fcd745"/>
<circle cx="308.1" cy="154.0" r="3.2" fill="#1fa0dc"/>
<circle cx="302.8" cy="156.5" r="3.2" fill="#f4121a"/>
<circle cx="297.2" cy="156.5" r="3.2" fill="#fcd745"/>
<circle cx="288.4" cy="156.5" r="3.2" fill="#1fa0dc"/>
<circle cx="291.9" cy="160.3" r="3.2" fill="#f7901f"/>
<circle cx="297.9" cy="159.3" r="3.2" fill="#1fa0dc"/>
<circle cx="304.5" cy="161.7" r="3.2" fill="#1fa0dc"/>
<circle cx="294.4" cy="162.4" r="3.2" fill="#1fa0dc"/>
<circle cx="309.8" cy="164.9" r="3.2" fill="#1fa0dc"/>
<circle cx="294.0" cy="165.6" r="3.2" fill="#1fa0dc"/>
<circle cx="298.6" cy="167.7" r="3.2" fill="#fcd745"/>
<circle cx="305.2" cy="167.7" r="3.2" fill="#1fa0dc"/>
<circle cx="282.8" cy="168.4" r="3.2" fill="#1fa0dc"/>
<circle cx="280.7" cy="174.4" r="3.2" fill="#f7901f"/>
<circle cx="280.7" cy="177.2" r="3.2" fill="#9b51ad"/>
<circle cx="298.9" cy="175.1" r="3.2" fill="#1fa0dc"/>
<circle cx="317.9" cy="174.4" r="3.2" fill="#fcd745"/>
<circle cx="312.6" cy="177.2" r="3.2" fill="#fcd745"/>
<circle cx="248.7" cy="178.7" r="3.2" fill="#1fa0dc"/>
<circle cx="262.0" cy="179.4" r="3.2" fill="#fcd745"/>
<circle cx="268.8" cy="179.4" r="3.2" fill="#fcd745"/>
<circle cx="276.8" cy="181.2" r="3.2" fill="#1fa0dc"/>
<circle cx="279.3" cy="179.1" r="3.2" fill="#9b51ad"/>
<circle cx="265.6" cy="184.1" r="3.2" fill="#fcd745"/>
<circle cx="271.4" cy="184.5" r="3.2" fill="#9b51ad"/>
<circle cx="262.4" cy="188.1" r="3.2" fill="#fcd745"/>
<circle cx="271.7" cy="188.8" r="3.2" fill="#9b51ad"/>
<circle cx="276.4" cy="190.9" r="3.2" fill="#1fa0dc"/>
<circle cx="245.5" cy="188.1" r="3.2" fill="#fcd745"/>
<circle cx="249.1" cy="190.2" r="3.2" fill="#a3cd3b"/>
<circle cx="232.9" cy="188.1" r="3.2" fill="#fcd745"/>
<circle cx="239.0" cy="191.3" r="3.2" fill="#1fa0dc"/>
<circle cx="266.0" cy="190.9" r="3.2" fill="#fcd745"/>
<circle cx="271.4" cy="193.8" r="3.2" fill="#fcd745"/>
<circle cx="238.3" cy="196.0" r="3.2" fill="#fcd745"/>
<circle cx="245.1" cy="194.9" r="3.2" fill="#a3cd3b"/>
<circle cx="244.7" cy="199.2" r="3.2" fill="#1fa0dc"/>
<circle cx="260.9" cy="194.2" r="3.2" fill="#f7901f"/>
<circle cx="266.3" cy="196.0" r="3.2" fill="#1fa0dc"/>
<circle cx="237.9" cy="202.8" r="3.2" fill="#1fa0dc"/>
<circle cx="261.3" cy="204.3" r="3.2" fill="#fcd745"/>
<circle cx="267.4" cy="204.6" r="3.2" fill="#f7901f"/>
<circle cx="243.3" cy="205.0" r="3.2" fill="#fcd745"/>
<circle cx="240.1" cy="207.1" r="3.2" fill="#fcd745"/>
<circle cx="249.1" cy="206.8" r="3.2" fill="#1fa0dc"/>
<circle cx="231.8" cy="208.9" r="3.2" fill="#fcd745"/>
<circle cx="235.8" cy="210.7" r="3.2" fill="#fcd745"/>
<circle cx="242.6" cy="211.5" r="3.2" fill="#fcd745"/>
<circle cx="251.6" cy="210.4" r="3.2" fill="#fcd745"/>
<circle cx="256.3" cy="209.3" r="3.2" fill="#f7901f"/>
<circle cx="258.4" cy="213.3" r="3.2" fill="#fcd745"/>
<circle cx="232.9" cy="214.0" r="3.2" fill="#fcd745"/>
<circle cx="272.4" cy="216.1" r="3.2" fill="#fcd745"/>
<circle cx="281.1" cy="183.8" r="3.2" fill="#1fa0dc"/>
<circle cx="286.5" cy="183.4" r="3.2" fill="#a3cd3b"/>
<circle cx="294.4" cy="182.7" r="3.2" fill="#fcd745"/>
<circle cx="300.1" cy="181.2" r="3.2" fill="#1fa0dc"/>
<circle cx="300.5" cy="184.5" r="3.2" fill="#1fa0dc"/>
<circle cx="307.0" cy="182.0" r="3.2" fill="#fcd745"/>
<circle cx="312.7" cy="179.1" r="3.2" fill="#fcd745"/>
<circle cx="317.1" cy="184.8" r="3.2" fill="#1fa0dc"/>
<circle cx="285.4" cy="190.6" r="3.2" fill="#f7901f"/>
<circle cx="281.8" cy="193.1" r="3.2" fill="#fcd745"/>
<circle cx="300.9" cy="188.8" r="3.2" fill="#fcd745"/>
<circle cx="308.1" cy="190.2" r="3.2" fill="#1fa0dc"/>
<circle cx="295.8" cy="193.8" r="3.2" fill="#1fa0dc"/>
<circle cx="301.2" cy="192.7" r="3.2" fill="#fcd745"/>
<circle cx="306.6" cy="194.5" r="3.2" fill="#fcd745"/>
<circle cx="306.6" cy="197.4" r="3.2" fill="#fcd745"/>
<circle cx="302.3" cy="198.9" r="3.2" fill="#1fa0dc"/>
<circle cx="302.3" cy="202.1" r="3.2" fill="#a3cd3b"/>
<circle cx="297.6" cy="197.8" r="3.2" fill="#9b51ad"/>
<circle cx="297.3" cy="205.3" r="3.2" fill="#1fa0dc"/>
<circle cx="305.5" cy="206.1" r="3.2" fill="#1fa0dc"/>
<circle cx="303.4" cy="207.9" r="3.2" fill="#a3cd3b"/>
<circle cx="294.4" cy="210.7" r="3.2" fill="#a3cd3b"/>
<circle cx="299.4" cy="210.4" r="3.2" fill="#1fa0dc"/>
<circle cx="303.7" cy="214.0" r="3.2" fill="#1fa0dc"/>
<circle cx="296.9" cy="216.1" r="3.2" fill="#1fa0dc"/>
<circle cx="247.3" cy="220.2" r="3.2" fill="#fcd745"/>
<circle cx="251.9" cy="221.0" r="3.2" fill="#fcd745"/>
<circle cx="262.4" cy="222.4" r="3.2" fill="#fcd745"/>
<circle cx="268.5" cy="223.1" r="3.2" fill="#fcd745"/>
<circle cx="240.8" cy="224.6" r="3.2" fill="#fcd745"/>
<circle cx="243.7" cy="226.4" r="3.2" fill="#fcd745"/>
<circle cx="257.0" cy="224.9" r="3.2" fill="#fcd745"/>
<circle cx="240.1" cy="229.9" r="3.2" fill="#1fa0dc"/>
<circle cx="258.1" cy="230.3" r="3.2" fill="#1fa0dc"/>
<circle cx="263.1" cy="230.7" r="3.2" fill="#fcd745"/>
<circle cx="268.5" cy="228.2" r="3.2" fill="#fcd745"/>
<circle cx="273.2" cy="228.2" r="3.2" fill="#fcd745"/>
<circle cx="231.8" cy="228.5" r="3.2" fill="#fcd745"/>
<circle cx="236.5" cy="232.5" r="3.2" fill="#a3cd3b"/>
<circle cx="231.8" cy="233.2" r="3.2" fill="#fcd745"/>
<circle cx="232.9" cy="237.1" r="3.2" fill="#fcd745"/>
<circle cx="268.5" cy="235.7" r="3.2" fill="#fcd745"/>
<circle cx="263.8" cy="238.6" r="3.2" fill="#fcd745"/>
<circle cx="273.2" cy="238.2" r="3.2" fill="#1fa0dc"/>
<circle cx="240.8" cy="241.1" r="3.2" fill="#fcd745"/>
<circle cx="253.7" cy="240.7" r="3.2" fill="#a3cd3b"/>
<circle cx="259.1" cy="241.1" r="3.2" fill="#fcd745"/>
<circle cx="268.5" cy="241.1" r="3.2" fill="#9b51ad"/>
<circle cx="277.5" cy="240.7" r="3.2" fill="#1fa0dc"/>
<circle cx="233.2" cy="241.8" r="3.2" fill="#fcd745"/>
<circle cx="251.9" cy="245.4" r="3.2" fill="#9b51ad"/>
<circle cx="259.1" cy="245.1" r="3.2" fill="#fcd745"/>
<circle cx="263.8" cy="244.0" r="3.2" fill="#fcd745"/>
<circle cx="272.4" cy="243.6" r="3.2" fill="#fcd745"/>
<circle cx="277.5" cy="245.1" r="3.2" fill="#1fa0dc"/>
<circle cx="232.9" cy="246.5" r="3.2" fill="#1fa0dc"/>
<circle cx="238.6" cy="250.5" r="3.2" fill="#fcd745"/>
<circle cx="232.9" cy="252.3" r="3.2" fill="#fcd745"/>
<circle cx="255.5" cy="250.5" r="3.2" fill="#fcd745"/>
<circle cx="263.5" cy="250.5" r="3.2" fill="#fcd745"/>
<circle cx="269.2" cy="249.0" r="3.2" fill="#1fa0dc"/>
<circle cx="273.2" cy="247.9" r="3.2" fill="#1fa0dc"/>
<circle cx="278.9" cy="250.1" r="3.2" fill="#1fa0dc"/>
<circle cx="247.6" cy="253.7" r="3.2" fill="#1fa0dc"/>
<circle cx="251.9" cy="255.1" r="3.2" fill="#f7901f"/>
<circle cx="259.1" cy="255.1" r="3.2" fill="#1fa0dc"/>
<circle cx="266.0" cy="255.5" r="3.2" fill="#fcd745"/>
<circle cx="292.9" cy="218.8" r="3.2" fill="#a3cd3b"/>
<circle cx="314.2" cy="223.8" r="3.2" fill="#fcd745"/>
<circle cx="305.2" cy="227.1" r="3.2" fill="#9b51ad"/>
<circle cx="282.9" cy="229.2" r="3.2" fill="#1fa0dc"/>
<circle cx="292.6" cy="228.5" r="3.2" fill="#1fa0dc"/>
<circle cx="301.6" cy="232.8" r="3.2" fill="#1fa0dc"/>
<circle cx="284.7" cy="233.5" r="3.2" fill="#1fa0dc"/>
<circle cx="290.4" cy="235.0" r="3.2" fill="#fcd745"/>
<circle cx="293.3" cy="233.2" r="3.2" fill="#1fa0dc"/>
<circle cx="326.0" cy="231.7" r="3.2" fill="#f7901f"/>
<circle cx="326.4" cy="236.8" r="3.2" fill="#1fa0dc"/>
<circle cx="281.1" cy="238.6" r="3.2" fill="#1fa0dc"/>
<circle cx="288.6" cy="238.2" r="3.2" fill="#1fa0dc"/>
<circle cx="295.5" cy="237.9" r="3.2" fill="#1fa0dc"/>
<circle cx="300.9" cy="241.5" r="3.2" fill="#1fa0dc"/>
<circle cx="305.9" cy="243.3" r="3.2" fill="#9b51ad"/>
<circle cx="324.6" cy="241.5" r="3.2" fill="#9b51ad"/>
<circle cx="328.6" cy="240.7" r="3.2" fill="#fcd745"/>
<circle cx="288.3" cy="243.6" r="3.2" fill="#fcd745"/>
<circle cx="295.5" cy="243.3" r="3.2" fill="#fcd745"/>
<circle cx="282.9" cy="247.2" r="3.2" fill="#1fa0dc"/>
<circle cx="290.1" cy="246.9" r="3.2" fill="#1fa0dc"/>
<circle cx="298.3" cy="246.9" r="3.2" fill="#fcd745"/>
<circle cx="303.0" cy="247.9" r="3.2" fill="#fcd745"/>
<circle cx="307.3" cy="250.5" r="3.2" fill="#fcd745"/>
<circle cx="312.4" cy="247.9" r="3.2" fill="#1fa0dc"/>
<circle cx="327.8" cy="246.5" r="3.2" fill="#fcd745"/>
<circle cx="294.0" cy="250.5" r="3.2" fill="#f7901f"/>
<circle cx="282.2" cy="253.0" r="3.2" fill="#1fa0dc"/>
<circle cx="299.4" cy="253.0" r="3.2" fill="#1fa0dc"/>
<circle cx="312.4" cy="253.3" r="3.2" fill="#1fa0dc"/>
<circle cx="293.3" cy="255.5" r="3.2" fill="#fcd745"/>
<circle cx="320.3" cy="255.1" r="3.2" fill="#9b51ad"/>
<circle cx="231.1" cy="257.8" r="3.2" fill="#fcd745"/>
<circle cx="240.4" cy="259.2" r="3.2" fill="#9b51ad"/>
<circle cx="272.4" cy="257.8" r="3.2" fill="#1fa0dc"/>
<circle cx="248.0" cy="264.3" r="3.2" fill="#fcd745"/>
<circle cx="255.5" cy="264.3" r="3.2" fill="#1fa0dc"/>
<circle cx="261.3" cy="264.3" r="3.2" fill="#a3cd3b"/>
<circle cx="268.5" cy="262.1" r="3.2" fill="#fcd745"/>
<circle cx="273.2" cy="264.3" r="3.2" fill="#1fa0dc"/>
<circle cx="239.0" cy="267.9" r="3.2" fill="#fcd745"/>
<circle cx="251.6" cy="268.6" r="3.2" fill="#1fa0dc"/>
<circle cx="255.5" cy="268.6" r="3.2" fill="#fcd745"/>
<circle cx="263.8" cy="267.9" r="3.2" fill="#fcd745"/>
<circle cx="268.5" cy="266.4" r="3.2" fill="#1fa0dc"/>
<circle cx="273.2" cy="268.6" r="3.2" fill="#fcd745"/>
<circle cx="232.9" cy="273.3" r="3.2" fill="#fcd745"/>
<circle cx="248.0" cy="271.1" r="3.2" fill="#fcd745"/>
<circle cx="251.9" cy="273.6" r="3.2" fill="#fcd745"/>
<circle cx="268.5" cy="272.5" r="3.2" fill="#1fa0dc"/>
<circle cx="273.2" cy="275.1" r="3.2" fill="#1fa0dc"/>
<circle cx="263.5" cy="274.3" r="3.2" fill="#fcd745"/>
<circle cx="268.1" cy="276.5" r="3.2" fill="#fcd745"/>
<circle cx="238.6" cy="278.7" r="3.2" fill="#1fa0dc"/>
<circle cx="244.4" cy="276.5" r="3.2" fill="#1fa0dc"/>
<circle cx="248.0" cy="278.3" r="3.2" fill="#fcd745"/>
<circle cx="263.5" cy="278.7" r="3.2" fill="#fcd745"/>
<circle cx="268.5" cy="280.1" r="3.2" fill="#fcd745"/>
<circle cx="231.1" cy="280.8" r="3.2" fill="#1fa0dc"/>
<circle cx="255.2" cy="282.6" r="3.2" fill="#1fa0dc"/>
<circle cx="258.8" cy="284.8" r="3.2" fill="#fcd745"/>
<circle cx="263.8" cy="284.4" r="3.2" fill="#1fa0dc"/>
<circle cx="268.5" cy="285.9" r="3.2" fill="#a3cd3b"/>
<circle cx="276.0" cy="283.3" r="3.2" fill="#1fa0dc"/>
<circle cx="273.2" cy="286.2" r="3.2" fill="#1fa0dc"/>
<circle cx="251.6" cy="289.8" r="3.2" fill="#1fa0dc"/>
<circle cx="257.3" cy="292.0" r="3.2" fill="#fcd745"/>
<circle cx="238.6" cy="289.8" r="3.2" fill="#9b51ad"/>
<circle cx="231.4" cy="289.8" r="3.2" fill="#fcd745"/>
<circle cx="232.5" cy="292.3" r="3.2" fill="#fcd745"/>
<circle cx="274.6" cy="289.8" r="3.2" fill="#fcd745"/>
<circle cx="278.9" cy="290.5" r="3.2" fill="#fcd745"/>
<circle cx="268.8" cy="292.3" r="3.2" fill="#9b51ad"/>
<circle cx="277.1" cy="293.8" r="3.2" fill="#f7901f"/>
<circle cx="260.2" cy="294.1" r="3.2" fill="#fcd745"/>
<circle cx="288.6" cy="257.4" r="3.2" fill="#1fa0dc"/>
<circle cx="299.8" cy="257.4" r="3.2" fill="#fcd745"/>
<circle cx="307.3" cy="257.4" r="3.2" fill="#1fa0dc"/>
<circle cx="313.1" cy="260.0" r="3.2" fill="#1fa0dc"/>
<circle cx="325.3" cy="258.5" r="3.2" fill="#fcd745"/>
<circle cx="315.3" cy="257.8" r="3.2" fill="#fcd745"/>
<circle cx="285.0" cy="261.8" r="3.2" fill="#1fa0dc"/>
<circle cx="290.8" cy="262.1" r="3.2" fill="#fcd745"/>
<circle cx="289.0" cy="264.3" r="3.2" fill="#1fa0dc"/>
<circle cx="299.8" cy="264.3" r="3.2" fill="#f7901f"/>
<circle cx="322.4" cy="264.3" r="3.2" fill="#fcd745"/>
<circle cx="327.8" cy="264.3" r="3.2" fill="#fcd745"/>
<circle cx="329.3" cy="268.6" r="3.2" fill="#a3cd3b"/>
<circle cx="286.5" cy="267.9" r="3.2" fill="#fcd745"/>
<circle cx="305.2" cy="268.6" r="3.2" fill="#fcd745"/>
<circle cx="310.9" cy="271.5" r="3.2" fill="#fcd745"/>
<circle cx="303.4" cy="271.5" r="3.2" fill="#1fa0dc"/>
<circle cx="289.4" cy="272.9" r="3.2" fill="#fcd745"/>
<circle cx="284.3" cy="275.1" r="3.2" fill="#fcd745"/>
<circle cx="297.6" cy="274.7" r="3.2" fill="#fcd745"/>
<circle cx="301.9" cy="274.7" r="3.2" fill="#fcd745"/>
<circle cx="309.1" cy="275.4" r="3.2" fill="#9b51ad"/>
<circle cx="316.3" cy="275.1" r="3.2" fill="#1fa0dc"/>
<circle cx="320.3" cy="271.5" r="3.2" fill="#1fa0dc"/>
<circle cx="326.0" cy="274.3" r="3.2" fill="#1fa0dc"/>
<circle cx="321.4" cy="278.7" r="3.2" fill="#9b51ad"/>
<circle cx="328.2" cy="278.3" r="3.2" fill="#fcd745"/>
<circle cx="299.4" cy="278.7" r="3.2" fill="#1fa0dc"/>
<circle cx="281.8" cy="280.8" r="3.2" fill="#fcd745"/>
<circle cx="286.8" cy="280.8" r="3.2" fill="#1fa0dc"/>
<circle cx="294.0" cy="280.8" r="3.2" fill="#1fa0dc"/>
<circle cx="305.2" cy="280.8" r="3.2" fill="#fcd745"/>
<circle cx="312.7" cy="280.8" r="3.2" fill="#fcd745"/>
<circle cx="282.9" cy="286.2" r="3.2" fill="#1fa0dc"/>
<circle cx="289.4" cy="284.8" r="3.2" fill="#1fa0dc"/>
<circle cx="294.7" cy="285.9" r="3.2" fill="#1fa0dc"/>
<circle cx="298.3" cy="286.6" r="3.2" fill="#fcd745"/>
<circle cx="302.3" cy="286.6" r="3.2" fill="#a3cd3b"/>
<circle cx="305.9" cy="286.6" r="3.2" fill="#fcd745"/>
<circle cx="281.1" cy="289.8" r="3.2" fill="#fcd745"/>
<circle cx="286.5" cy="293.1" r="3.2" fill="#1fa0dc"/>
<circle cx="297.6" cy="293.1" r="3.2" fill="#fcd745"/>
<circle cx="316.3" cy="291.6" r="3.2" fill="#fcd745"/>
<circle cx="321.0" cy="293.1" r="3.2" fill="#1fa0dc"/>
<circle cx="328.9" cy="292.0" r="3.2" fill="#fcd745"/>
<circle cx="270.6" cy="295.8" r="3.2" fill="#1fa0dc"/>
<circle cx="230.7" cy="297.6" r="3.2" fill="#fcd745"/>
<circle cx="235.4" cy="299.4" r="3.2" fill="#fcd745"/>
<circle cx="239.0" cy="301.6" r="3.2" fill="#fcd745"/>
<circle cx="244.0" cy="299.8" r="3.2" fill="#fcd745"/>
<circle cx="248.0" cy="297.2" r="3.2" fill="#fcd745"/>
<circle cx="251.9" cy="301.9" r="3.2" fill="#1fa0dc"/>
<circle cx="258.8" cy="301.9" r="3.2" fill="#1fa0dc"/>
<circle cx="268.1" cy="296.5" r="3.2" fill="#fcd745"/>
<circle cx="273.5" cy="297.6" r="3.2" fill="#fcd745"/>
<circle cx="277.8" cy="297.6" r="3.2" fill="#fcd745"/>
<circle cx="266.3" cy="302.6" r="3.2" fill="#fcd745"/>
<circle cx="269.2" cy="303.0" r="3.2" fill="#fcd745"/>
<circle cx="235.4" cy="306.2" r="3.2" fill="#fcd745"/>
<circle cx="240.1" cy="309.1" r="3.2" fill="#fcd745"/>
<circle cx="261.3" cy="306.6" r="3.2" fill="#fcd745"/>
<circle cx="266.7" cy="306.9" r="3.2" fill="#1fa0dc"/>
<circle cx="268.5" cy="309.5" r="3.2" fill="#9b51ad"/>
<circle cx="276.4" cy="303.4" r="3.2" fill="#a3cd3b"/>
<circle cx="278.9" cy="307.3" r="3.2" fill="#1fa0dc"/>
<circle cx="251.6" cy="309.1" r="3.2" fill="#fcd745"/>
<circle cx="255.5" cy="312.0" r="3.2" fill="#fcd745"/>
<circle cx="251.2" cy="315.2" r="3.2" fill="#fcd745"/>
<circle cx="255.2" cy="317.7" r="3.2" fill="#1fa0dc"/>
<circle cx="240.8" cy="314.9" r="3.2" fill="#f7901f"/>
<circle cx="230.7" cy="317.7" r="3.2" fill="#fcd745"/>
<circle cx="268.1" cy="314.9" r="3.2" fill="#fcd745"/>
<circle cx="272.8" cy="317.7" r="3.2" fill="#fcd745"/>
<circle cx="264.5" cy="317.7" r="3.2" fill="#fcd745"/>
<circle cx="262.0" cy="320.6" r="3.2" fill="#fcd745"/>
<circle cx="278.9" cy="312.7" r="3.2" fill="#fcd745"/>
<circle cx="278.9" cy="318.5" r="3.2" fill="#fcd745"/>
<circle cx="241.2" cy="321.0" r="3.2" fill="#fcd745"/>
<circle cx="244.0" cy="323.1" r="3.2" fill="#fcd745"/>
<circle cx="265.6" cy="323.5" r="3.2" fill="#fcd745"/>
<circle cx="262.0" cy="326.7" r="3.2" fill="#fcd745"/>
<circle cx="278.9" cy="322.8" r="3.2" fill="#fcd745"/>
<circle cx="268.5" cy="329.6" r="3.2" fill="#fcd745"/>
<circle cx="236.8" cy="331.1" r="3.2" fill="#fcd745"/>
<circle cx="263.8" cy="332.1" r="3.2" fill="#fcd745"/>
<circle cx="277.1" cy="331.8" r="3.2" fill="#fcd745"/>
<circle cx="284.3" cy="296.9" r="3.2" fill="#1fa0dc"/>
<circle cx="288.6" cy="297.2" r="3.2" fill="#1fa0dc"/>
<circle cx="294.4" cy="297.6" r="3.2" fill="#fcd745"/>
<circle cx="301.9" cy="297.2" r="3.2" fill="#9b51ad"/>
<circle cx="309.1" cy="297.2" r="3.2" fill="#1fa0dc"/>
<circle cx="312.7" cy="300.8" r="3.2" fill="#fcd745"/>
<circle cx="317.1" cy="300.8" r="3.2" fill="#1fa0dc"/>
<circle cx="322.8" cy="302.6" r="3.2" fill="#fcd745"/>
<circle cx="280.7" cy="296.9" r="3.2" fill="#fcd745"/>
<circle cx="281.1" cy="302.3" r="3.2" fill="#fcd745"/>
<circle cx="281.1" cy="306.9" r="3.2" fill="#1fa0dc"/>
<circle cx="288.3" cy="303.7" r="3.2" fill="#fcd745"/>
<circle cx="289.4" cy="306.6" r="3.2" fill="#fcd745"/>
<circle cx="290.4" cy="301.2" r="3.2" fill="#fcd745"/>
<circle cx="291.5" cy="310.5" r="3.2" fill="#1fa0dc"/>
<circle cx="294.4" cy="312.3" r="3.2" fill="#1fa0dc"/>
<circle cx="314.5" cy="306.2" r="3.2" fill="#a3cd3b"/>
<circle cx="309.1" cy="308.4" r="3.2" fill="#fcd745"/>
<circle cx="309.1" cy="312.7" r="3.2" fill="#fcd745"/>
<circle cx="309.1" cy="315.6" r="3.2" fill="#fcd745"/>
<circle cx="313.5" cy="317.4" r="3.2" fill="#fcd745"/>
<circle cx="326.4" cy="309.1" r="3.2" fill="#1fa0dc"/>
<circle cx="328.9" cy="311.3" r="3.2" fill="#a87e52"/>
<circle cx="326.4" cy="315.2" r="3.2" fill="#1fa0dc"/>
<circle cx="323.5" cy="317.7" r="3.2" fill="#fcd745"/>
<circle cx="322.8" cy="322.1" r="3.2" fill="#fcd745"/>
<circle cx="328.9" cy="324.2" r="3.2" fill="#fcd745"/>
<circle cx="281.1" cy="311.3" r="3.2" fill="#fcd745"/>
<circle cx="281.1" cy="319.9" r="3.2" fill="#fcd745"/>
<circle cx="284.7" cy="319.5" r="3.2" fill="#fcd745"/>
<circle cx="289.4" cy="317.4" r="3.2" fill="#fcd745"/>
<circle cx="297.6" cy="317.0" r="3.2" fill="#fcd745"/>
<circle cx="299.4" cy="319.9" r="3.2" fill="#fcd745"/>
<circle cx="294.4" cy="322.4" r="3.2" fill="#fcd745"/>
<circle cx="285.4" cy="324.9" r="3.2" fill="#fcd745"/>
<circle cx="289.0" cy="324.9" r="3.2" fill="#fcd745"/>
<circle cx="286.5" cy="328.5" r="3.2" fill="#fcd745"/>
<circle cx="305.2" cy="322.1" r="3.2" fill="#fcd745"/>
<circle cx="303.7" cy="324.9" r="3.2" fill="#fcd745"/>
<circle cx="308.4" cy="325.3" r="3.2" fill="#fcd745"/>
<circle cx="314.5" cy="324.6" r="3.2" fill="#fcd745"/>
<circle cx="305.2" cy="328.2" r="3.2" fill="#fcd745"/>
<circle cx="312.7" cy="328.9" r="3.2" fill="#fcd745"/>
<circle cx="284.0" cy="331.8" r="3.2" fill="#1fa0dc"/>
<circle cx="294.4" cy="331.4" r="3.2" fill="#1fa0dc"/>
<circle cx="314.5" cy="331.8" r="3.2" fill="#f7901f"/>
<circle cx="230.6" cy="336.8" r="3.2" fill="#a3cd3b"/>
<circle cx="282.5" cy="339.2" r="3.2" fill="#fcd745"/>
<circle cx="285.0" cy="336.1" r="3.2" fill="#fcd745"/>
<circle cx="288.8" cy="336.8" r="3.2" fill="#fcd745"/>
<circle cx="294.4" cy="336.8" r="3.2" fill="#1fa0dc"/>
<circle cx="300.0" cy="337.4" r="3.2" fill="#fcd745"/>
<circle cx="305.6" cy="339.2" r="3.2" fill="#fcd745"/>
<circle cx="309.4" cy="336.1" r="3.2" fill="#fcd745"/>
<circle cx="314.4" cy="336.1" r="3.2" fill="#fcd745"/>
<circle cx="316.2" cy="339.9" r="3.2" fill="#a3cd3b"/>
<circle cx="265.6" cy="341.8" r="3.2" fill="#fcd745"/>
<circle cx="275.0" cy="345.5" r="3.2" fill="#fcd745"/>
<circle cx="294.4" cy="342.4" r="3.2" fill="#fcd745"/>
<circle cx="303.8" cy="341.8" r="3.2" fill="#1fa0dc"/>
<circle cx="301.9" cy="345.5" r="3.2" fill="#fcd745"/>
<circle cx="306.2" cy="345.5" r="3.2" fill="#fcd745"/>
<circle cx="303.8" cy="349.9" r="3.2" fill="#1fa0dc"/>
<circle cx="315.0" cy="349.9" r="3.2" fill="#1fa0dc"/>
<circle cx="275.6" cy="361.8" r="3.2" fill="#1fa0dc"/>
<circle cx="275.7" cy="382.6" r="3.2" fill="#1fa0dc"/>
<circle cx="297.9" cy="382.6" r="3.2" fill="#1fa0dc"/>
<circle cx="327.3" cy="382.6" r="3.2" fill="#1fa0dc"/>
<circle cx="316.9" cy="390.2" r="3.2" fill="#fcd745"/>
<circle cx="298.2" cy="395.9" r="3.2" fill="#1fa0dc"/>
<circle cx="321.6" cy="395.9" r="3.2" fill="#1fa0dc"/>
<circle cx="279.0" cy="399.0" r="3.2" fill="#1fa0dc"/>
<circle cx="295.6" cy="400.5" r="3.2" fill="#fcd745"/>
<circle cx="314.9" cy="412.5" r="3.2" fill="#1fa0dc"/>
<circle cx="312.7" cy="415.0" r="3.2" fill="#fcd745"/>
<circle cx="325.9" cy="412.5" r="3.2" fill="#fcd745"/>
<circle cx="329.4" cy="417.2" r="3.2" fill="#1fa0dc"/>
<circle cx="321.2" cy="429.0" r="3.2" fill="#fcd745"/>
<circle cx="325.9" cy="435.6" r="3.2" fill="#fcd745"/>
<circle cx="283.7" cy="65.6" r="3.2" fill="#fcd745"/>
<circle cx="284.4" cy="71.2" r="3.2" fill="#fcd745"/>
<circle cx="293.5" cy="78.3" r="3.2" fill="#1fa0dc"/>
<circle cx="309.3" cy="82.9" r="3.2" fill="#1fa0dc"/>
<circle cx="318.8" cy="82.6" r="3.2" fill="#a3cd3b"/>
<circle cx="252.0" cy="92.4" r="3.2" fill="#1fa0dc"/>
<circle cx="262.4" cy="95.7" r="3.2" fill="#a3cd3b"/>
<circle cx="266.2" cy="98.2" r="3.2" fill="#fcd745"/>
<circle cx="262.4" cy="101.1" r="3.2" fill="#fcd745"/>
<circle cx="266.2" cy="103.8" r="3.2" fill="#a3cd3b"/>
<circle cx="269.1" cy="106.3" r="3.2" fill="#fcd745"/>
<circle cx="270.5" cy="108.5" r="3.2" fill="#fcd745"/>
<circle cx="273.3" cy="111.0" r="3.2" fill="#1fa0dc"/>
<circle cx="268.6" cy="113.4" r="3.2" fill="#fcd745"/>
<circle cx="247.3" cy="100.4" r="3.2" fill="#fcd745"/>
<circle cx="289.9" cy="96.0" r="3.2" fill="#f7901f"/>
<circle cx="288.0" cy="102.8" r="3.2" fill="#9b51ad"/>
<circle cx="325.9" cy="102.1" r="3.2" fill="#1fa0dc"/>
<circle cx="325.9" cy="109.6" r="3.2" fill="#1fa0dc"/>
<circle cx="318.1" cy="109.9" r="3.2" fill="#fcd745"/>
<circle cx="308.1" cy="110.6" r="3.2" fill="#fcd745"/>
<circle cx="302.9" cy="115.6" r="3.2" fill="#fcd745"/>
<circle cx="294.9" cy="118.4" r="3.2" fill="#9b51ad"/>
<circle cx="320.2" cy="120.1" r="3.2" fill="#fcd745"/>
<circle cx="276.9" cy="118.4" r="3.2" fill="#fcd745"/>
<circle cx="247.5" cy="116.0" r="3.2" fill="#1fa0dc"/>
<circle cx="252.3" cy="118.4" r="3.2" fill="#fcd745"/>
<circle cx="243.8" cy="123.4" r="3.2" fill="#1fa0dc"/>
<circle cx="252.0" cy="128.6" r="3.2" fill="#fcd745"/>
<circle cx="297.0" cy="125.8" r="3.2" fill="#fcd745"/>
<circle cx="292.5" cy="128.6" r="3.2" fill="#fcd745"/>
<circle cx="293.9" cy="133.6" r="3.2" fill="#fcd745"/>
<circle cx="271.2" cy="131.2" r="3.2" fill="#fcd745"/>
<circle cx="265.8" cy="133.6" r="3.2" fill="#1fa0dc"/>
<circle cx="245.6" cy="133.3" r="3.2" fill="#1fa0dc"/>
<circle cx="238.5" cy="135.7" r="3.2" fill="#1fa0dc"/>
<circle cx="252.0" cy="137.1" r="3.2" fill="#a3cd3b"/>
<circle cx="265.5" cy="138.3" r="3.2" fill="#a3cd3b"/>
<circle cx="300.3" cy="138.0" r="3.2" fill="#fcd745"/>
<circle cx="305.0" cy="137.6" r="3.2" fill="#fcd745"/>
<circle cx="315.9" cy="137.1" r="3.2" fill="#fcd745"/>
<circle cx="290.4" cy="139.7" r="3.2" fill="#1fa0dc"/>
<circle cx="106.4" cy="142.6" r="3.2" fill="#fcd745"/>
<circle cx="99.2" cy="150.2" r="3.2" fill="#fcd745"/>
<circle cx="115.5" cy="150.2" r="3.2" fill="#fcd745"/>
<circle cx="74.3" cy="154.2" r="3.2" fill="#1fa0dc"/>
<circle cx="80.4" cy="154.5" r="3.2" fill="#fcd745"/>
<circle cx="71.5" cy="158.5" r="3.2" fill="#1fa0dc"/>
<circle cx="49.9" cy="162.0" r="3.2" fill="#1fa0dc"/>
<circle cx="78.0" cy="163.0" r="3.2" fill="#1fa0dc"/>
<circle cx="71.2" cy="167.3" r="3.2" fill="#a3cd3b"/>
<circle cx="119.5" cy="162.7" r="3.2" fill="#fcd745"/>
<circle cx="119.2" cy="168.1" r="3.2" fill="#1fa0dc"/>
<circle cx="125.2" cy="168.0" r="3.2" fill="#1fa0dc"/>
<circle cx="118.8" cy="172.4" r="3.2" fill="#fcd745"/>
<circle cx="117.8" cy="180.2" r="3.2" fill="#fcd745"/>
<circle cx="62.0" cy="187.6" r="3.2" fill="#1fa0dc"/>
<circle cx="35.0" cy="194.0" r="3.2" fill="#1fa0dc"/>
<circle cx="120.9" cy="197.1" r="3.2" fill="#1fa0dc"/>
<circle cx="128.7" cy="194.0" r="3.2" fill="#1fa0dc"/>
<circle cx="116.6" cy="209.9" r="3.2" fill="#1fa0dc"/>
<circle cx="114.1" cy="216.0" r="3.2" fill="#1fa0dc"/>
<circle cx="119.8" cy="222.7" r="3.2" fill="#fcd745"/>
<circle cx="109.8" cy="226.7" r="3.2" fill="#fcd745"/>
<circle cx="122.6" cy="227.7" r="3.2" fill="#fcd745"/>
<circle cx="124.9" cy="231.2" r="3.2" fill="#fcd745"/>
<circle cx="108.8" cy="233.8" r="3.2" fill="#fcd745"/>
<circle cx="128.0" cy="236.9" r="3.2" fill="#fcd745"/>
<circle cx="35.0" cy="247.1" r="3.2" fill="#1fa0dc"/>
<circle cx="115.2" cy="251.4" r="3.2" fill="#a3cd3b"/>
<circle cx="84.0" cy="263.9" r="3.2" fill="#1fa0dc"/>
<circle cx="96.8" cy="263.9" r="3.2" fill="#1fa0dc"/>
<circle cx="110.3" cy="264.6" r="3.2" fill="#fcd745"/>
<circle cx="121.6" cy="264.6" r="3.2" fill="#a3cd3b"/>
<circle cx="129.4" cy="271.0" r="3.2" fill="#1fa0dc"/>
<circle cx="62.0" cy="279.2" r="3.2" fill="#fcd745"/>
<circle cx="85.4" cy="287.3" r="3.2" fill="#a3cd3b"/>
<circle cx="128.7" cy="291.6" r="3.2" fill="#1fa0dc"/>
<circle cx="90.4" cy="67.3" r="3.2" fill="#fcd745"/>
<circle cx="80.9" cy="71.9" r="3.2" fill="#1fa0dc"/>
<circle cx="88.5" cy="77.6" r="3.2" fill="#1fa0dc"/>
<circle cx="68.6" cy="80.3" r="3.2" fill="#1fa0dc"/>
<circle cx="56.3" cy="82.6" r="3.2" fill="#1fa0dc"/>
<circle cx="93.5" cy="84.0" r="3.2" fill="#1fa0dc"/>
<circle cx="103.6" cy="84.3" r="3.2" fill="#fcd745"/>
<circle cx="30.7" cy="80.3" r="3.2" fill="#1fa0dc"/>
<circle cx="91.1" cy="90.7" r="3.2" fill="#fcd745"/>
<circle cx="92.1" cy="95.4" r="3.2" fill="#fcd745"/>
<circle cx="93.6" cy="99.6" r="3.2" fill="#fcd745"/>
<circle cx="56.3" cy="97.4" r="3.2" fill="#fcd745"/>
<circle cx="73.3" cy="105.2" r="3.2" fill="#fcd745"/>
<circle cx="93.2" cy="109.6" r="3.2" fill="#fcd745"/>
<circle cx="100.0" cy="114.4" r="3.2" fill="#fcd745"/>
<circle cx="111.7" cy="118.1" r="3.2" fill="#a3cd3b"/>
<circle cx="106.7" cy="119.8" r="3.2" fill="#1fa0dc"/>
<circle cx="94.6" cy="119.8" r="3.2" fill="#1fa0dc"/>
<circle cx="63.0" cy="121.9" r="3.2" fill="#1fa0dc"/>
<circle cx="42.1" cy="133.3" r="3.2" fill="#a3cd3b"/>
<circle cx="376.6" cy="142.1" r="3.2" fill="#1fa0dc"/>
<circle cx="417.8" cy="145.0" r="3.2" fill="#fcd745"/>
<circle cx="421.6" cy="145.4" r="3.2" fill="#1fa0dc"/>
<circle cx="410.3" cy="150.7" r="3.2" fill="#9b51ad"/>
<circle cx="419.8" cy="150.7" r="3.2" fill="#fcd745"/>
<circle cx="418.8" cy="157.0" r="3.2" fill="#fcd745"/>
<circle cx="415.9" cy="165.6" r="3.2" fill="#1fa0dc"/>
<circle cx="419.5" cy="168.1" r="3.2" fill="#fcd745"/>
<circle cx="423.8" cy="170.1" r="3.2" fill="#1fa0dc"/>
<circle cx="396.8" cy="168.4" r="3.2" fill="#fcd745"/>
<circle cx="396.8" cy="171.2" r="3.2" fill="#a3cd3b"/>
<circle cx="335.0" cy="176.2" r="3.2" fill="#fcd745"/>
<circle cx="424.0" cy="179.3" r="3.2" fill="#a3cd3b"/>
<circle cx="400.3" cy="182.3" r="3.2" fill="#fcd745"/>
<circle cx="398.2" cy="185.2" r="3.2" fill="#fcd745"/>
<circle cx="388.5" cy="189.0" r="3.2" fill="#1fa0dc"/>
<circle cx="402.4" cy="189.7" r="3.2" fill="#a87e52"/>
<circle cx="417.4" cy="189.0" r="3.2" fill="#9b51ad"/>
<circle cx="363.7" cy="198.0" r="3.2" fill="#fcd745"/>
<circle cx="400.3" cy="196.5" r="3.2" fill="#fcd745"/>
<circle cx="396.1" cy="198.5" r="3.2" fill="#f7901f"/>
<circle cx="384.3" cy="200.4" r="3.2" fill="#a3cd3b"/>
<circle cx="411.7" cy="198.7" r="3.2" fill="#1fa0dc"/>
<circle cx="332.1" cy="198.9" r="3.2" fill="#a3cd3b"/>
<circle cx="384.3" cy="205.3" r="3.2" fill="#1fa0dc"/>
<circle cx="381.1" cy="208.2" r="3.2" fill="#1fa0dc"/>
<circle cx="413.8" cy="205.6" r="3.2" fill="#1fa0dc"/>
<circle cx="341.4" cy="208.9" r="3.2" fill="#1fa0dc"/>
<circle cx="393.9" cy="209.6" r="3.2" fill="#fcd745"/>
<circle cx="401.7" cy="208.5" r="3.2" fill="#1fa0dc"/>
<circle cx="386.1" cy="214.1" r="3.2" fill="#1fa0dc"/>
<circle cx="413.8" cy="214.9" r="3.2" fill="#fcd745"/>
<circle cx="418.1" cy="215.3" r="3.2" fill="#1fa0dc"/>
<circle cx="426.9" cy="212.7" r="3.2" fill="#1fa0dc"/>
<circle cx="341.4" cy="220.6" r="3.2" fill="#1fa0dc"/>
<circle cx="352.7" cy="221.0" r="3.2" fill="#a3cd3b"/>
<circle cx="378.6" cy="221.0" r="3.2" fill="#a3cd3b"/>
<circle cx="341.4" cy="226.2" r="3.2" fill="#fcd745"/>
<circle cx="396.5" cy="225.1" r="3.2" fill="#fcd745"/>
<circle cx="408.8" cy="222.4" r="3.2" fill="#fcd745"/>
<circle cx="411.7" cy="219.1" r="3.2" fill="#fcd745"/>
<circle cx="421.6" cy="228.8" r="3.2" fill="#fcd745"/>
<circle cx="381.4" cy="228.4" r="3.2" fill="#fcd745"/>
<circle cx="386.1" cy="229.8" r="3.2" fill="#fcd745"/>
<circle cx="388.2" cy="231.2" r="3.2" fill="#a3cd3b"/>
<circle cx="375.7" cy="234.3" r="3.2" fill="#1fa0dc"/>
<circle cx="381.4" cy="233.8" r="3.2" fill="#1fa0dc"/>
<circle cx="336.4" cy="230.8" r="3.2" fill="#a3cd3b"/>
<circle cx="339.2" cy="233.3" r="3.2" fill="#a3cd3b"/>
<circle cx="336.4" cy="236.2" r="3.2" fill="#fcd745"/>
<circle cx="347.0" cy="233.3" r="3.2" fill="#a3cd3b"/>
<circle cx="347.0" cy="238.6" r="3.2" fill="#1fa0dc"/>
<circle cx="347.0" cy="244.0" r="3.2" fill="#a3cd3b"/>
<circle cx="413.4" cy="238.0" r="3.2" fill="#1fa0dc"/>
<circle cx="352.7" cy="245.4" r="3.2" fill="#fcd745"/>
<circle cx="357.4" cy="243.3" r="3.2" fill="#fcd745"/>
<circle cx="358.4" cy="249.0" r="3.2" fill="#f7901f"/>
<circle cx="354.9" cy="250.8" r="3.2" fill="#1fa0dc"/>
<circle cx="370.5" cy="243.6" r="3.2" fill="#fcd745"/>
<circle cx="373.3" cy="249.0" r="3.2" fill="#fcd745"/>
<circle cx="408.8" cy="246.8" r="3.2" fill="#fcd745"/>
<circle cx="336.4" cy="251.5" r="3.2" fill="#fcd745"/>
<circle cx="332.1" cy="249.7" r="3.2" fill="#1fa0dc"/>
<circle cx="341.6" cy="255.4" r="3.2" fill="#1fa0dc"/>
<circle cx="337.8" cy="257.5" r="3.2" fill="#1fa0dc"/>
<circle cx="347.0" cy="257.1" r="3.2" fill="#a3cd3b"/>
<circle cx="347.0" cy="261.0" r="3.2" fill="#1fa0dc"/>
<circle cx="352.7" cy="259.3" r="3.2" fill="#fcd745"/>
<circle cx="356.7" cy="259.3" r="3.2" fill="#9b51ad"/>
<circle cx="333.6" cy="264.6" r="3.2" fill="#1fa0dc"/>
<circle cx="339.2" cy="264.6" r="3.2" fill="#1fa0dc"/>
<circle cx="347.0" cy="265.0" r="3.2" fill="#9b51ad"/>
<circle cx="358.4" cy="263.9" r="3.2" fill="#1fa0dc"/>
<circle cx="352.7" cy="266.0" r="3.2" fill="#fcd745"/>
<circle cx="358.4" cy="268.1" r="3.2" fill="#fcd745"/>
<circle cx="365.5" cy="268.1" r="3.2" fill="#a3cd3b"/>
<circle cx="371.5" cy="264.6" r="3.2" fill="#fcd745"/>
<circle cx="376.2" cy="264.6" r="3.2" fill="#fcd745"/>
<circle cx="409.1" cy="264.3" r="3.2" fill="#fcd745"/>
<circle cx="331.1" cy="268.4" r="3.2" fill="#a3cd3b"/>
<circle cx="345.6" cy="271.4" r="3.2" fill="#1fa0dc"/>
<circle cx="336.0" cy="271.0" r="3.2" fill="#fcd745"/>
<circle cx="336.0" cy="275.2" r="3.2" fill="#fcd745"/>
<circle cx="351.3" cy="272.4" r="3.2" fill="#fcd745"/>
<circle cx="354.9" cy="274.1" r="3.2" fill="#9b51ad"/>
<circle cx="358.4" cy="271.7" r="3.2" fill="#fcd745"/>
<circle cx="372.9" cy="271.4" r="3.2" fill="#fcd745"/>
<circle cx="341.4" cy="281.2" r="3.2" fill="#fcd745"/>
<circle cx="346.8" cy="283.5" r="3.2" fill="#f7901f"/>
<circle cx="391.4" cy="277.4" r="3.2" fill="#fcd745"/>
<circle cx="395.3" cy="279.5" r="3.2" fill="#1fa0dc"/>
<circle cx="372.9" cy="283.5" r="3.2" fill="#f7901f"/>
<circle cx="372.9" cy="287.3" r="3.2" fill="#fcd745"/>
<circle cx="352.7" cy="287.7" r="3.2" fill="#9b51ad"/>
<circle cx="359.1" cy="286.9" r="3.2" fill="#fcd745"/>
<circle cx="387.5" cy="283.5" r="3.2" fill="#1fa0dc"/>
<circle cx="391.8" cy="285.9" r="3.2" fill="#1fa0dc"/>
<circle cx="387.5" cy="288.0" r="3.2" fill="#1fa0dc"/>
<circle cx="396.1" cy="288.0" r="3.2" fill="#1fa0dc"/>
<circle cx="390.4" cy="290.2" r="3.2" fill="#1fa0dc"/>
<circle cx="332.8" cy="289.4" r="3.2" fill="#1fa0dc"/>
<circle cx="336.4" cy="291.1" r="3.2" fill="#1fa0dc"/>
<circle cx="346.3" cy="291.6" r="3.2" fill="#1fa0dc"/>
<circle cx="378.3" cy="292.3" r="3.2" fill="#fcd745"/>
<circle cx="429.4" cy="279.5" r="3.2" fill="#1fa0dc"/>
<circle cx="429.4" cy="286.2" r="3.2" fill="#1fa0dc"/>
<circle cx="425.5" cy="289.2" r="3.2" fill="#1fa0dc"/>
<circle cx="428.0" cy="292.3" r="3.2" fill="#fcd745"/>
<circle cx="332.8" cy="294.7" r="3.2" fill="#fcd745"/>
<circle cx="352.7" cy="299.7" r="3.2" fill="#1fa0dc"/>
<circle cx="358.4" cy="297.6" r="3.2" fill="#a3cd3b"/>
<circle cx="364.1" cy="295.4" r="3.2" fill="#fcd745"/>
<circle cx="364.1" cy="299.7" r="3.2" fill="#fcd745"/>
<circle cx="369.8" cy="297.6" r="3.2" fill="#fcd745"/>
<circle cx="378.3" cy="301.8" r="3.2" fill="#1fa0dc"/>
<circle cx="375.5" cy="304.7" r="3.2" fill="#1fa0dc"/>
<circle cx="384.0" cy="301.8" r="3.2" fill="#fcd745"/>
<circle cx="382.6" cy="306.8" r="3.2" fill="#fcd745"/>
<circle cx="389.7" cy="297.6" r="3.2" fill="#fcd745"/>
<circle cx="392.5" cy="296.1" r="3.2" fill="#1fa0dc"/>
<circle cx="394.6" cy="297.6" r="3.2" fill="#fcd745"/>
<circle cx="404.6" cy="303.9" r="3.2" fill="#fcd745"/>
<circle cx="396.1" cy="306.8" r="3.2" fill="#fcd745"/>
<circle cx="415.9" cy="299.7" r="3.2" fill="#9b51ad"/>
<circle cx="413.1" cy="303.2" r="3.2" fill="#9b51ad"/>
<circle cx="425.9" cy="304.7" r="3.2" fill="#fcd745"/>
<circle cx="425.9" cy="295.4" r="3.2" fill="#1fa0dc"/>
<circle cx="341.4" cy="308.9" r="3.2" fill="#1fa0dc"/>
<circle cx="348.5" cy="311.8" r="3.2" fill="#1fa0dc"/>
<circle cx="358.4" cy="306.1" r="3.2" fill="#fcd745"/>
<circle cx="358.4" cy="312.2" r="3.2" fill="#a3cd3b"/>
<circle cx="368.4" cy="311.8" r="3.2" fill="#1fa0dc"/>
<circle cx="375.7" cy="311.8" r="3.2" fill="#fcd745"/>
<circle cx="372.6" cy="316.0" r="3.2" fill="#a3cd3b"/>
<circle cx="375.7" cy="317.4" r="3.2" fill="#1fa0dc"/>
<circle cx="391.8" cy="315.0" r="3.2" fill="#1fa0dc"/>
<circle cx="400.3" cy="315.0" r="3.2" fill="#f7901f"/>
<circle cx="408.8" cy="315.0" r="3.2" fill="#fcd745"/>
<circle cx="413.1" cy="310.3" r="3.2" fill="#fcd745"/>
<circle cx="417.4" cy="315.0" r="3.2" fill="#fcd745"/>
<circle cx="423.0" cy="311.8" r="3.2" fill="#fcd745"/>
<circle cx="428.7" cy="309.6" r="3.2" fill="#fcd745"/>
<circle cx="342.8" cy="317.9" r="3.2" fill="#f7901f"/>
<circle cx="346.8" cy="323.1" r="3.2" fill="#1fa0dc"/>
<circle cx="330.7" cy="324.5" r="3.2" fill="#fcd745"/>
<circle cx="330.7" cy="312.2" r="3.2" fill="#f7901f"/>
<circle cx="384.0" cy="320.3" r="3.2" fill="#1fa0dc"/>
<circle cx="381.1" cy="323.1" r="3.2" fill="#1fa0dc"/>
<circle cx="389.7" cy="322.4" r="3.2" fill="#9b51ad"/>
<circle cx="396.1" cy="323.1" r="3.2" fill="#1fa0dc"/>
<circle cx="402.4" cy="323.1" r="3.2" fill="#fcd745"/>
<circle cx="400.3" cy="326.7" r="3.2" fill="#fcd745"/>
<circle cx="391.8" cy="326.4" r="3.2" fill="#1fa0dc"/>
<circle cx="384.0" cy="326.4" r="3.2" fill="#1fa0dc"/>
<circle cx="379.0" cy="326.0" r="3.2" fill="#1fa0dc"/>
<circle cx="375.7" cy="329.2" r="3.2" fill="#1fa0dc"/>
<circle cx="419.8" cy="323.1" r="3.2" fill="#fcd745"/>
<circle cx="425.9" cy="320.3" r="3.2" fill="#1fa0dc"/>
<circle cx="425.9" cy="326.0" r="3.2" fill="#1fa0dc"/>
<circle cx="428.7" cy="330.9" r="3.2" fill="#fcd745"/>
<circle cx="411.0" cy="329.2" r="3.2" fill="#1fa0dc"/>
<circle cx="417.4" cy="333.1" r="3.2" fill="#fcd745"/>
<circle cx="384.0" cy="333.1" r="3.2" fill="#fcd745"/>
<circle cx="336.0" cy="335.2" r="3.2" fill="#f7901f"/>
<circle cx="355.3" cy="337.3" r="3.2" fill="#a3cd3b"/>
<circle cx="352.4" cy="339.7" r="3.2" fill="#fcd745"/>
<circle cx="348.2" cy="342.6" r="3.2" fill="#fcd745"/>
<circle cx="407.8" cy="336.6" r="3.2" fill="#1fa0dc"/>
<circle cx="396.1" cy="336.6" r="3.2" fill="#fcd745"/>
<circle cx="391.4" cy="338.3" r="3.2" fill="#1fa0dc"/>
<circle cx="396.1" cy="342.7" r="3.2" fill="#1fa0dc"/>
<circle cx="421.6" cy="339.7" r="3.2" fill="#9b51ad"/>
<circle cx="375.7" cy="342.6" r="3.2" fill="#9b51ad"/>
<circle cx="375.2" cy="348.0" r="3.2" fill="#9b51ad"/>
<circle cx="384.0" cy="345.4" r="3.2" fill="#fcd745"/>
<circle cx="391.8" cy="347.3" r="3.2" fill="#fcd745"/>
<circle cx="404.6" cy="347.3" r="3.2" fill="#fcd745"/>
<circle cx="407.4" cy="344.4" r="3.2" fill="#fcd745"/>
<circle cx="410.3" cy="346.6" r="3.2" fill="#fcd745"/>
<circle cx="411.7" cy="348.7" r="3.2" fill="#1fa0dc"/>
<circle cx="428.7" cy="344.0" r="3.2" fill="#fcd745"/>
<circle cx="422.0" cy="351.5" r="3.2" fill="#fcd745"/>
<circle cx="428.7" cy="352.9" r="3.2" fill="#a3cd3b"/>
<circle cx="411.0" cy="354.4" r="3.2" fill="#1fa0dc"/>
<circle cx="421.6" cy="356.5" r="3.2" fill="#1fa0dc"/>
<circle cx="425.9" cy="358.6" r="3.2" fill="#fcd745"/>
<circle cx="396.1" cy="357.9" r="3.2" fill="#9b51ad"/>
<circle cx="396.1" cy="362.2" r="3.2" fill="#fcd745"/>
<circle cx="403.6" cy="361.9" r="3.2" fill="#a87e52"/>
<circle cx="409.3" cy="363.6" r="3.2" fill="#fcd745"/>
<circle cx="422.3" cy="365.7" r="3.2" fill="#1fa0dc"/>
<circle cx="426.6" cy="365.7" r="3.2" fill="#1fa0dc"/>
<circle cx="381.4" cy="366.7" r="3.2" fill="#1fa0dc"/>
<circle cx="411.2" cy="372.7" r="3.2" fill="#1fa0dc"/>
<circle cx="381.4" cy="377.4" r="3.2" fill="#1fa0dc"/>
<circle cx="402.4" cy="377.4" r="3.2" fill="#fcd745"/>
<circle cx="391.4" cy="385.2" r="3.2" fill="#1fa0dc"/>
<circle cx="396.1" cy="385.9" r="3.2" fill="#fcd745"/>
<circle cx="400.3" cy="387.3" r="3.2" fill="#fcd745"/>
<circle cx="405.0" cy="386.3" r="3.2" fill="#1fa0dc"/>
<circle cx="396.1" cy="390.9" r="3.2" fill="#1fa0dc"/>
<circle cx="411.2" cy="389.8" r="3.2" fill="#1fa0dc"/>
<circle cx="388.0" cy="395.4" r="3.2" fill="#fcd745"/>
<circle cx="396.1" cy="394.4" r="3.2" fill="#fcd745"/>
<circle cx="404.6" cy="393.0" r="3.2" fill="#1fa0dc"/>
<circle cx="408.8" cy="394.0" r="3.2" fill="#1fa0dc"/>
<circle cx="401.7" cy="397.3" r="3.2" fill="#fcd745"/>
<circle cx="386.1" cy="398.7" r="3.2" fill="#1fa0dc"/>
<circle cx="417.4" cy="396.9" r="3.2" fill="#1fa0dc"/>
<circle cx="364.4" cy="398.7" r="3.2" fill="#1fa0dc"/>
<circle cx="405.0" cy="403.0" r="3.2" fill="#fcd745"/>
<circle cx="411.2" cy="402.0" r="3.2" fill="#1fa0dc"/>
<circle cx="401.7" cy="405.8" r="3.2" fill="#f7901f"/>
<circle cx="415.2" cy="405.8" r="3.2" fill="#9b51ad"/>
<circle cx="422.0" cy="406.8" r="3.2" fill="#fcd745"/>
<circle cx="386.1" cy="405.8" r="3.2" fill="#fcd745"/>
<circle cx="404.6" cy="409.1" r="3.2" fill="#fcd745"/>
<circle cx="408.8" cy="409.1" r="3.2" fill="#fcd745"/>
<circle cx="413.5" cy="409.4" r="3.2" fill="#fcd745"/>
<circle cx="368.6" cy="409.4" r="3.2" fill="#9b51ad"/>
<circle cx="381.4" cy="412.9" r="3.2" fill="#fcd745"/>
<circle cx="400.3" cy="416.5" r="3.2" fill="#fcd745"/>
<circle cx="408.8" cy="417.2" r="3.2" fill="#a3cd3b"/>
<circle cx="425.9" cy="412.9" r="3.2" fill="#a3cd3b"/>
<circle cx="335.7" cy="412.9" r="3.2" fill="#1fa0dc"/>
<circle cx="331.1" cy="417.2" r="3.2" fill="#1fa0dc"/>
<circle cx="355.9" cy="422.1" r="3.2" fill="#fcd745"/>
<circle cx="361.5" cy="422.1" r="3.2" fill="#9b51ad"/>
<circle cx="374.3" cy="421.9" r="3.2" fill="#fcd745"/>
<circle cx="377.2" cy="426.4" r="3.2" fill="#1fa0dc"/>
<circle cx="417.4" cy="424.3" r="3.2" fill="#1fa0dc"/>
<circle cx="425.5" cy="421.4" r="3.2" fill="#9b51ad"/>
<circle cx="425.5" cy="426.4" r="3.2" fill="#a3cd3b"/>
<circle cx="402.4" cy="430.7" r="3.2" fill="#fcd745"/>
<circle cx="406.7" cy="429.9" r="3.2" fill="#1fa0dc"/>
<circle cx="347.0" cy="432.8" r="3.2" fill="#fcd745"/>
<circle cx="343.1" cy="435.6" r="3.2" fill="#fcd745"/>
<circle cx="352.7" cy="435.2" r="3.2" fill="#1fa0dc"/>
<circle cx="357.7" cy="435.6" r="3.2" fill="#1fa0dc"/>
<circle cx="364.4" cy="432.8" r="3.2" fill="#f7901f"/>
<circle cx="370.5" cy="432.8" r="3.2" fill="#fcd745"/>
<circle cx="374.7" cy="435.6" r="3.2" fill="#fcd745"/>
<circle cx="364.1" cy="439.9" r="3.2" fill="#fcd745"/>
<circle cx="333.1" cy="444.2" r="3.2" fill="#fcd745"/>
<circle cx="340.2" cy="443.7" r="3.2" fill="#fcd745"/>
<circle cx="348.5" cy="443.7" r="3.2" fill="#1fa0dc"/>
<circle cx="341.4" cy="447.4" r="3.2" fill="#f7901f"/>
<circle cx="346.8" cy="447.4" r="3.2" fill="#f7901f"/>
<circle cx="385.4" cy="435.6" r="3.2" fill="#fcd745"/>
<circle cx="332.8" cy="451.8" r="3.2" fill="#1fa0dc"/>
<circle cx="341.5" cy="454.2" r="3.2" fill="#1fa0dc"/>
<circle cx="348.5" cy="452.4" r="3.2" fill="#fcd745"/>
<circle cx="346.9" cy="454.9" r="3.2" fill="#1fa0dc"/>
<circle cx="353.1" cy="453.6" r="3.2" fill="#fcd745"/>
<circle cx="352.8" cy="459.5" r="3.2" fill="#fcd745"/>
<circle cx="343.5" cy="491.5" r="3.2" fill="#fcd745"/>
<circle cx="416.2" cy="488.6" r="3.2" fill="#1fa0dc"/>
<circle cx="419.8" cy="491.5" r="3.2" fill="#fcd745"/>
<circle cx="423.1" cy="492.0" r="3.2" fill="#f7901f"/>
<circle cx="422.8" cy="497.4" r="3.2" fill="#fcd745"/>
<circle cx="408.5" cy="498.6" r="3.2" fill="#1fa0dc"/>
<circle cx="426.9" cy="502.0" r="3.2" fill="#f7901f"/>
<circle cx="336.4" cy="69.0" r="3.2" fill="#1fa0dc"/>
<circle cx="349.9" cy="76.5" r="3.2" fill="#a3cd3b"/>
<circle cx="338.8" cy="79.3" r="3.2" fill="#fcd745"/>
<circle cx="332.6" cy="82.2" r="3.2" fill="#fcd745"/>
<circle cx="331.7" cy="86.4" r="3.2" fill="#fcd745"/>
<circle cx="332.6" cy="90.7" r="3.2" fill="#fcd745"/>
<circle cx="353.9" cy="90.7" r="3.2" fill="#fcd745"/>
<circle cx="361.0" cy="87.1" r="3.2" fill="#fcd745"/>
<circle cx="362.7" cy="108.2" r="3.2" fill="#1fa0dc"/>
<circle cx="368.6" cy="115.6" r="3.2" fill="#1fa0dc"/>
<circle cx="367.2" cy="127.9" r="3.2" fill="#1fa0dc"/>
<circle cx="404.1" cy="63.4" r="3.2" fill="#1fa0dc"/>
<circle cx="411.7" cy="66.6" r="3.2" fill="#1fa0dc"/>
<circle cx="421.2" cy="70.8" r="3.2" fill="#1fa0dc"/>
<circle cx="428.0" cy="65.1" r="3.2" fill="#1fa0dc"/>
<circle cx="399.9" cy="84.6" r="3.2" fill="#1fa0dc"/>
<circle cx="413.8" cy="90.7" r="3.2" fill="#fcd745"/>
<circle cx="420.9" cy="91.1" r="3.2" fill="#a3cd3b"/>
<circle cx="417.6" cy="105.2" r="3.2" fill="#1fa0dc"/>
<circle cx="417.6" cy="121.2" r="3.2" fill="#1fa0dc"/>
<circle cx="428.7" cy="123.8" r="3.2" fill="#fcd745"/>
<circle cx="399.9" cy="128.6" r="3.2" fill="#1fa0dc"/>
<circle cx="413.4" cy="130.0" r="3.2" fill="#a3cd3b"/>
<circle cx="402.4" cy="134.7" r="3.2" fill="#1fa0dc"/>
<circle cx="409.8" cy="135.2" r="3.2" fill="#1fa0dc"/>
<circle cx="428.3" cy="134.7" r="3.2" fill="#1fa0dc"/>
<circle cx="432.1" cy="164.9" r="3.2" fill="#fcd745"/>
<circle cx="458.1" cy="163.0" r="3.2" fill="#1fa0dc"/>
<circle cx="485.0" cy="162.7" r="3.2" fill="#fcd745"/>
<circle cx="467.2" cy="167.7" r="3.2" fill="#1fa0dc"/>
<circle cx="443.8" cy="171.0" r="3.2" fill="#1fa0dc"/>
<circle cx="452.7" cy="173.0" r="3.2" fill="#1fa0dc"/>
<circle cx="473.8" cy="174.4" r="3.2" fill="#1fa0dc"/>
<circle cx="437.1" cy="180.9" r="3.2" fill="#fcd745"/>
<circle cx="468.1" cy="181.5" r="3.2" fill="#fcd745"/>
<circle cx="477.6" cy="181.5" r="3.2" fill="#a3cd3b"/>
<circle cx="453.7" cy="186.6" r="3.2" fill="#fcd745"/>
<circle cx="448.2" cy="191.8" r="3.2" fill="#1fa0dc"/>
<circle cx="453.4" cy="191.6" r="3.2" fill="#1fa0dc"/>
<circle cx="454.9" cy="198.2" r="3.2" fill="#fcd745"/>
<circle cx="473.6" cy="198.0" r="3.2" fill="#9b51ad"/>
<circle cx="451.3" cy="203.2" r="3.2" fill="#1fa0dc"/>
<circle cx="481.1" cy="205.6" r="3.2" fill="#1fa0dc"/>
<circle cx="460.1" cy="208.2" r="3.2" fill="#a3cd3b"/>
<circle cx="463.4" cy="215.3" r="3.2" fill="#1fa0dc"/>
<circle cx="481.1" cy="215.3" r="3.2" fill="#a3cd3b"/>
<circle cx="515.9" cy="160.9" r="3.2" fill="#9b51ad"/>
<circle cx="512.1" cy="175.1" r="3.2" fill="#fcd745"/>
<circle cx="506.0" cy="185.5" r="3.2" fill="#1fa0dc"/>
<circle cx="508.1" cy="197.5" r="3.2" fill="#fcd745"/>
<circle cx="519.8" cy="198.9" r="3.2" fill="#fcd745"/>
<circle cx="525.5" cy="201.1" r="3.2" fill="#1fa0dc"/>
<circle cx="513.1" cy="206.8" r="3.2" fill="#fcd745"/>
<circle cx="503.9" cy="210.6" r="3.2" fill="#1fa0dc"/>
<circle cx="506.0" cy="216.7" r="3.2" fill="#1fa0dc"/>
<circle cx="514.5" cy="216.7" r="3.2" fill="#1fa0dc"/>
<circle cx="433.6" cy="220.1" r="3.2" fill="#fcd745"/>
<circle cx="463.4" cy="221.3" r="3.2" fill="#a3cd3b"/>
<circle cx="470.2" cy="223.4" r="3.2" fill="#1fa0dc"/>
<circle cx="493.2" cy="224.4" r="3.2" fill="#1fa0dc"/>
<circle cx="498.2" cy="225.8" r="3.2" fill="#1fa0dc"/>
<circle cx="483.3" cy="225.8" r="3.2" fill="#fcd745"/>
<circle cx="482.1" cy="231.6" r="3.2" fill="#a3cd3b"/>
<circle cx="506.4" cy="234.8" r="3.2" fill="#1fa0dc"/>
<circle cx="438.2" cy="226.7" r="3.2" fill="#1fa0dc"/>
<circle cx="447.3" cy="226.7" r="3.2" fill="#9b51ad"/>
<circle cx="444.6" cy="229.8" r="3.2" fill="#fcd745"/>
<circle cx="455.9" cy="230.1" r="3.2" fill="#1fa0dc"/>
<circle cx="454.4" cy="233.3" r="3.2" fill="#fcd745"/>
<circle cx="459.5" cy="242.9" r="3.2" fill="#fcd745"/>
<circle cx="477.7" cy="242.3" r="3.2" fill="#fcd745"/>
<circle cx="485.4" cy="245.8" r="3.2" fill="#f7901f"/>
<circle cx="514.5" cy="243.0" r="3.2" fill="#fcd745"/>
<circle cx="443.1" cy="249.0" r="3.2" fill="#fcd745"/>
<circle cx="435.7" cy="252.2" r="3.2" fill="#9b51ad"/>
<circle cx="452.0" cy="251.4" r="3.2" fill="#9b51ad"/>
<circle cx="480.4" cy="253.5" r="3.2" fill="#f7901f"/>
<circle cx="437.8" cy="257.1" r="3.2" fill="#1fa0dc"/>
<circle cx="443.5" cy="256.8" r="3.2" fill="#1fa0dc"/>
<circle cx="433.1" cy="260.8" r="3.2" fill="#1fa0dc"/>
<circle cx="474.7" cy="262.5" r="3.2" fill="#fcd745"/>
<circle cx="445.3" cy="264.3" r="3.2" fill="#fcd745"/>
<circle cx="436.0" cy="267.0" r="3.2" fill="#1fa0dc"/>
<circle cx="442.1" cy="267.4" r="3.2" fill="#1fa0dc"/>
<circle cx="439.2" cy="264.6" r="3.2" fill="#1fa0dc"/>
<circle cx="440.2" cy="272.7" r="3.2" fill="#f7901f"/>
<circle cx="440.2" cy="275.5" r="3.2" fill="#9b51ad"/>
<circle cx="433.1" cy="275.0" r="3.2" fill="#fcd745"/>
<circle cx="436.4" cy="277.4" r="3.2" fill="#1fa0dc"/>
<circle cx="446.8" cy="278.1" r="3.2" fill="#1fa0dc"/>
<circle cx="469.8" cy="279.1" r="3.2" fill="#a3cd3b"/>
<circle cx="444.6" cy="282.1" r="3.2" fill="#f7901f"/>
<circle cx="443.5" cy="284.5" r="3.2" fill="#1fa0dc"/>
<circle cx="442.1" cy="287.3" r="3.2" fill="#9b51ad"/>
<circle cx="434.0" cy="289.4" r="3.2" fill="#1fa0dc"/>
<circle cx="439.2" cy="290.9" r="3.2" fill="#a3cd3b"/>
<circle cx="460.1" cy="290.2" r="3.2" fill="#fcd745"/>
<circle cx="454.9" cy="292.6" r="3.2" fill="#fcd745"/>
<circle cx="467.2" cy="293.0" r="3.2" fill="#9b51ad"/>
<circle cx="462.0" cy="293.4" r="3.2" fill="#a3cd3b"/>
<circle cx="437.1" cy="292.3" r="3.2" fill="#9b51ad"/>
<circle cx="448.5" cy="293.7" r="3.2" fill="#9b51ad"/>
<circle cx="463.4" cy="299.4" r="3.2" fill="#f7901f"/>
<circle cx="490.4" cy="297.6" r="3.2" fill="#a3cd3b"/>
<circle cx="447.0" cy="303.2" r="3.2" fill="#fcd745"/>
<circle cx="444.2" cy="305.4" r="3.2" fill="#fcd745"/>
<circle cx="451.3" cy="301.8" r="3.2" fill="#f7901f"/>
<circle cx="456.3" cy="305.4" r="3.2" fill="#1fa0dc"/>
<circle cx="452.0" cy="307.1" r="3.2" fill="#9b51ad"/>
<circle cx="440.7" cy="307.5" r="3.2" fill="#fcd745"/>
<circle cx="459.5" cy="309.6" r="3.2" fill="#f7901f"/>
<circle cx="463.4" cy="309.3" r="3.2" fill="#9b51ad"/>
<circle cx="482.8" cy="304.7" r="3.2" fill="#1fa0dc"/>
<circle cx="485.7" cy="308.9" r="3.2" fill="#fcd745"/>
<circle cx="471.2" cy="310.8" r="3.2" fill="#fcd745"/>
<circle cx="474.0" cy="312.2" r="3.2" fill="#fcd745"/>
<circle cx="431.1" cy="309.6" r="3.2" fill="#fcd745"/>
<circle cx="434.3" cy="314.6" r="3.2" fill="#1fa0dc"/>
<circle cx="436.4" cy="316.7" r="3.2" fill="#1fa0dc"/>
<circle cx="432.1" cy="318.1" r="3.2" fill="#1fa0dc"/>
<circle cx="444.2" cy="314.6" r="3.2" fill="#fcd745"/>
<circle cx="452.4" cy="313.6" r="3.2" fill="#fcd745"/>
<circle cx="449.9" cy="318.1" r="3.2" fill="#9b51ad"/>
<circle cx="459.8" cy="316.7" r="3.2" fill="#9b51ad"/>
<circle cx="463.8" cy="317.4" r="3.2" fill="#1fa0dc"/>
<circle cx="481.1" cy="317.0" r="3.2" fill="#f7901f"/>
<circle cx="495.6" cy="321.3" r="3.2" fill="#fcd745"/>
<circle cx="442.1" cy="319.6" r="3.2" fill="#fcd745"/>
<circle cx="442.1" cy="323.1" r="3.2" fill="#fcd745"/>
<circle cx="450.6" cy="324.1" r="3.2" fill="#f7901f"/>
<circle cx="458.4" cy="326.0" r="3.2" fill="#1fa0dc"/>
<circle cx="453.4" cy="328.1" r="3.2" fill="#a3cd3b"/>
<circle cx="430.7" cy="327.4" r="3.2" fill="#1fa0dc"/>
<circle cx="430.7" cy="331.2" r="3.2" fill="#fcd745"/>
<circle cx="484.7" cy="326.0" r="3.2" fill="#fcd745"/>
<circle cx="483.7" cy="329.2" r="3.2" fill="#fcd745"/>
<circle cx="487.1" cy="332.4" r="3.2" fill="#fcd745"/>
<circle cx="479.0" cy="330.9" r="3.2" fill="#fcd745"/>
<circle cx="439.7" cy="333.1" r="3.2" fill="#1fa0dc"/>
<circle cx="439.7" cy="340.9" r="3.2" fill="#fcd745"/>
<circle cx="430.7" cy="344.0" r="3.2" fill="#fcd745"/>
<circle cx="458.1" cy="340.2" r="3.2" fill="#9b51ad"/>
<circle cx="454.4" cy="342.6" r="3.2" fill="#f7901f"/>
<circle cx="460.5" cy="342.3" r="3.2" fill="#fcd745"/>
<circle cx="463.8" cy="345.8" r="3.2" fill="#fcd745"/>
<circle cx="457.0" cy="347.3" r="3.2" fill="#f7901f"/>
<circle cx="468.4" cy="348.3" r="3.2" fill="#fcd745"/>
<circle cx="475.7" cy="348.7" r="3.2" fill="#fcd745"/>
<circle cx="490.8" cy="343.3" r="3.2" fill="#f7901f"/>
<circle cx="437.8" cy="354.4" r="3.2" fill="#a3cd3b"/>
<circle cx="466.6" cy="352.2" r="3.2" fill="#a3cd3b"/>
<circle cx="451.6" cy="359.3" r="3.2" fill="#1fa0dc"/>
<circle cx="477.6" cy="358.6" r="3.2" fill="#1fa0dc"/>
<circle cx="465.2" cy="361.9" r="3.2" fill="#fcd745"/>
<circle cx="471.9" cy="361.9" r="3.2" fill="#9b51ad"/>
<circle cx="446.3" cy="369.3" r="3.2" fill="#fcd745"/>
<circle cx="459.8" cy="370.7" r="3.2" fill="#9b51ad"/>
<circle cx="460.1" cy="377.4" r="3.2" fill="#9b51ad"/>
<circle cx="463.4" cy="374.6" r="3.2" fill="#fcd745"/>
<circle cx="466.9" cy="377.8" r="3.2" fill="#fcd745"/>
<circle cx="448.9" cy="382.6" r="3.2" fill="#fcd745"/>
<circle cx="443.1" cy="385.9" r="3.2" fill="#a3cd3b"/>
<circle cx="463.4" cy="384.5" r="3.2" fill="#fcd745"/>
<circle cx="467.6" cy="385.9" r="3.2" fill="#a3cd3b"/>
<circle cx="466.2" cy="389.5" r="3.2" fill="#fcd745"/>
<circle cx="470.1" cy="391.6" r="3.2" fill="#1fa0dc"/>
<circle cx="432.6" cy="393.4" r="3.2" fill="#1fa0dc"/>
<circle cx="446.3" cy="396.3" r="3.2" fill="#fcd745"/>
<circle cx="459.5" cy="405.1" r="3.2" fill="#1fa0dc"/>
<circle cx="444.9" cy="407.2" r="3.2" fill="#1fa0dc"/>
<circle cx="454.4" cy="409.4" r="3.2" fill="#9b51ad"/>
<circle cx="442.8" cy="412.9" r="3.2" fill="#1fa0dc"/>
<circle cx="446.3" cy="417.2" r="3.2" fill="#1fa0dc"/>
<circle cx="434.5" cy="419.6" r="3.2" fill="#fcd745"/>
<circle cx="439.7" cy="420.7" r="3.2" fill="#fcd745"/>
<circle cx="450.2" cy="422.8" r="3.2" fill="#fcd745"/>
<circle cx="434.3" cy="426.4" r="3.2" fill="#1fa0dc"/>
<circle cx="443.1" cy="430.4" r="3.2" fill="#1fa0dc"/>
<circle cx="529.4" cy="401.1" r="3.2" fill="#fcd745"/>
<circle cx="522.0" cy="429.0" r="3.2" fill="#a3cd3b"/>
<circle cx="506.0" cy="438.0" r="3.2" fill="#1fa0dc"/>
<circle cx="496.5" cy="441.3" r="3.2" fill="#a3cd3b"/>
<circle cx="486.1" cy="444.2" r="3.2" fill="#a3cd3b"/>
<circle cx="488.9" cy="446.3" r="3.2" fill="#fcd745"/>
<circle cx="484.7" cy="447.0" r="3.2" fill="#1fa0dc"/>
<circle cx="513.1" cy="447.0" r="3.2" fill="#fcd745"/>
<circle cx="478.3" cy="447.7" r="3.2" fill="#1fa0dc"/>
<circle cx="444.0" cy="451.1" r="3.2" fill="#fcd745"/>
<circle cx="468.1" cy="449.9" r="3.2" fill="#fcd745"/>
<circle cx="481.2" cy="451.8" r="3.2" fill="#fcd745"/>
<circle cx="512.8" cy="452.8" r="3.2" fill="#1fa0dc"/>
<circle cx="466.2" cy="453.6" r="3.2" fill="#a87e52"/>
<circle cx="472.2" cy="454.0" r="3.2" fill="#1fa0dc"/>
<circle cx="481.5" cy="457.4" r="3.2" fill="#fcd745"/>
<circle cx="466.5" cy="462.4" r="3.2" fill="#f4121a"/>
<circle cx="476.0" cy="460.8" r="3.2" fill="#9b51ad"/>
<circle cx="518.5" cy="462.4" r="3.2" fill="#1fa0dc"/>
<circle cx="456.5" cy="465.2" r="3.2" fill="#a3cd3b"/>
<circle cx="460.2" cy="465.5" r="3.2" fill="#fcd745"/>
<circle cx="464.4" cy="465.8" r="3.2" fill="#a3cd3b"/>
<circle cx="467.2" cy="467.0" r="3.2" fill="#fcd745"/>
<circle cx="493.1" cy="465.5" r="3.2" fill="#1fa0dc"/>
<circle cx="511.9" cy="465.5" r="3.2" fill="#fcd745"/>
<circle cx="437.5" cy="471.5" r="3.2" fill="#1fa0dc"/>
<circle cx="456.5" cy="470.2" r="3.2" fill="#fcd745"/>
<circle cx="460.2" cy="471.5" r="3.2" fill="#fcd745"/>
<circle cx="469.4" cy="470.2" r="3.2" fill="#1fa0dc"/>
<circle cx="472.2" cy="468.2" r="3.2" fill="#fcd745"/>
<circle cx="478.5" cy="473.0" r="3.2" fill="#fcd745"/>
<circle cx="491.0" cy="474.0" r="3.2" fill="#1fa0dc"/>
<circle cx="488.5" cy="476.8" r="3.2" fill="#fcd745"/>
<circle cx="504.8" cy="472.8" r="3.2" fill="#f7901f"/>
<circle cx="514.0" cy="473.0" r="3.2" fill="#f7901f"/>
<circle cx="450.6" cy="475.5" r="3.2" fill="#1fa0dc"/>
<circle cx="453.8" cy="475.5" r="3.2" fill="#fcd745"/>
<circle cx="437.5" cy="479.9" r="3.2" fill="#fcd745"/>
<circle cx="440.6" cy="484.2" r="3.2" fill="#fcd745"/>
<circle cx="463.5" cy="480.8" r="3.2" fill="#f7901f"/>
<circle cx="452.5" cy="486.1" r="3.2" fill="#f7901f"/>
<circle cx="455.0" cy="484.9" r="3.2" fill="#a3cd3b"/>
<circle cx="466.9" cy="487.4" r="3.2" fill="#fcd745"/>
<circle cx="468.1" cy="491.1" r="3.2" fill="#fcd745"/>
<circle cx="471.0" cy="490.2" r="3.2" fill="#f7901f"/>
<circle cx="475.2" cy="492.4" r="3.2" fill="#f7901f"/>
<circle cx="494.4" cy="488.2" r="3.2" fill="#fcd745"/>
<circle cx="501.5" cy="487.4" r="3.2" fill="#f7901f"/>
<circle cx="528.8" cy="486.8" r="3.2" fill="#f7901f"/>
<circle cx="450.6" cy="494.0" r="3.2" fill="#a3cd3b"/>
<circle cx="455.2" cy="493.2" r="3.2" fill="#a3cd3b"/>
<circle cx="481.9" cy="496.8" r="3.2" fill="#fcd745"/>
<circle cx="489.4" cy="494.9" r="3.2" fill="#a3cd3b"/>
<circle cx="496.2" cy="498.6" r="3.2" fill="#fcd745"/>
<circle cx="525.0" cy="493.6" r="3.2" fill="#1fa0dc"/>
<circle cx="525.2" cy="502.0" r="3.2" fill="#a3cd3b"/>
<circle cx="485.2" cy="503.2" r="3.2" fill="#f7901f"/>
<circle cx="443.8" cy="87.4" r="3.2" fill="#1fa0dc"/>
<circle cx="448.2" cy="90.3" r="3.2" fill="#1fa0dc"/>
<circle cx="452.7" cy="118.8" r="3.2" fill="#1fa0dc"/>
<circle cx="478.3" cy="117.0" r="3.2" fill="#a3cd3b"/>
<circle cx="471.6" cy="132.9" r="3.2" fill="#a3cd3b"/>
<circle cx="533.1" cy="186.2" r="3.2" fill="#fcd745"/>
<circle cx="539.9" cy="189.0" r="3.2" fill="#f7901f"/>
<circle cx="545.9" cy="198.9" r="3.2" fill="#1fa0dc"/>
<circle cx="539.2" cy="213.4" r="3.2" fill="#1fa0dc"/>
<circle cx="545.6" cy="219.1" r="3.2" fill="#fcd745"/>
<circle cx="536.8" cy="224.4" r="3.2" fill="#fcd745"/>
<circle cx="560.1" cy="226.9" r="3.2" fill="#fcd745"/>
<circle cx="560.1" cy="229.8" r="3.2" fill="#fcd745"/>
<circle cx="602.7" cy="283.5" r="3.2" fill="#1fa0dc"/>
<circle cx="604.6" cy="301.8" r="3.2" fill="#1fa0dc"/>
<circle cx="580.4" cy="305.1" r="3.2" fill="#a3cd3b"/>
<circle cx="591.4" cy="306.5" r="3.2" fill="#fcd745"/>
<circle cx="571.9" cy="312.2" r="3.2" fill="#9b51ad"/>
<circle cx="575.2" cy="315.7" r="3.2" fill="#9b51ad"/>
<circle cx="564.8" cy="321.4" r="3.2" fill="#9b51ad"/>
<circle cx="603.9" cy="318.1" r="3.2" fill="#fcd745"/>
<circle cx="589.4" cy="323.1" r="3.2" fill="#a3cd3b"/>
<circle cx="592.5" cy="325.2" r="3.2" fill="#fcd745"/>
<circle cx="590.4" cy="332.1" r="3.2" fill="#f7901f"/>
<circle cx="603.6" cy="331.6" r="3.2" fill="#a3cd3b"/>
<circle cx="537.4" cy="339.5" r="3.2" fill="#fcd745"/>
<circle cx="547.5" cy="341.6" r="3.2" fill="#f7901f"/>
<circle cx="579.0" cy="339.7" r="3.2" fill="#fcd745"/>
<circle cx="603.9" cy="339.2" r="3.2" fill="#fcd745"/>
<circle cx="603.9" cy="344.0" r="3.2" fill="#fcd745"/>
<circle cx="563.0" cy="344.4" r="3.2" fill="#f4121a"/>
<circle cx="575.5" cy="348.0" r="3.2" fill="#fcd745"/>
<circle cx="571.2" cy="350.1" r="3.2" fill="#1fa0dc"/>
<circle cx="545.9" cy="351.5" r="3.2" fill="#f7901f"/>
<circle cx="549.9" cy="351.5" r="3.2" fill="#a3cd3b"/>
<circle cx="547.8" cy="355.1" r="3.2" fill="#fcd745"/>
<circle cx="539.2" cy="354.4" r="3.2" fill="#fcd745"/>
<circle cx="535.0" cy="356.5" r="3.2" fill="#9b51ad"/>
<circle cx="569.1" cy="354.8" r="3.2" fill="#fcd745"/>
<circle cx="575.2" cy="355.8" r="3.2" fill="#f7901f"/>
<circle cx="581.4" cy="355.4" r="3.2" fill="#fcd745"/>
<circle cx="586.5" cy="353.7" r="3.2" fill="#fcd745"/>
<circle cx="603.9" cy="350.1" r="3.2" fill="#9b51ad"/>
<circle cx="603.9" cy="354.4" r="3.2" fill="#fcd745"/>
<circle cx="600.3" cy="359.1" r="3.2" fill="#fcd745"/>
<circle cx="546.3" cy="360.8" r="3.2" fill="#a3cd3b"/>
<circle cx="555.6" cy="362.9" r="3.2" fill="#fcd745"/>
<circle cx="559.8" cy="363.6" r="3.2" fill="#fcd745"/>
<circle cx="563.0" cy="365.0" r="3.2" fill="#1fa0dc"/>
<circle cx="574.7" cy="362.5" r="3.2" fill="#fcd745"/>
<circle cx="584.0" cy="362.2" r="3.2" fill="#9b51ad"/>
<circle cx="590.4" cy="364.7" r="3.2" fill="#fcd745"/>
<circle cx="597.5" cy="364.6" r="3.2" fill="#fcd745"/>
<circle cx="539.2" cy="369.3" r="3.2" fill="#1fa0dc"/>
<circle cx="535.0" cy="370.4" r="3.2" fill="#a3cd3b"/>
<circle cx="601.7" cy="370.7" r="3.2" fill="#fcd745"/>
<circle cx="540.7" cy="372.7" r="3.2" fill="#f7901f"/>
<circle cx="545.3" cy="377.0" r="3.2" fill="#1fa0dc"/>
<circle cx="552.0" cy="377.0" r="3.2" fill="#f7901f"/>
<circle cx="540.2" cy="382.1" r="3.2" fill="#fcd745"/>
<circle cx="550.6" cy="382.6" r="3.2" fill="#fcd745"/>
<circle cx="539.2" cy="386.6" r="3.2" fill="#9b51ad"/>
<circle cx="549.9" cy="388.3" r="3.2" fill="#fcd745"/>
<circle cx="563.7" cy="387.3" r="3.2" fill="#fcd745"/>
<circle cx="534.0" cy="392.3" r="3.2" fill="#f7901f"/>
<circle cx="553.9" cy="392.6" r="3.2" fill="#1fa0dc"/>
<circle cx="559.8" cy="394.4" r="3.2" fill="#fcd745"/>
<circle cx="566.2" cy="395.1" r="3.2" fill="#f7901f"/>
<circle cx="574.3" cy="391.6" r="3.2" fill="#9b51ad"/>
<circle cx="578.6" cy="398.0" r="3.2" fill="#fcd745"/>
<circle cx="531.4" cy="401.5" r="3.2" fill="#fcd745"/>
<circle cx="538.2" cy="401.5" r="3.2" fill="#9b51ad"/>
<circle cx="555.9" cy="401.5" r="3.2" fill="#a3cd3b"/>
<circle cx="602.4" cy="403.4" r="3.2" fill="#a3cd3b"/>
<circle cx="598.2" cy="425.0" r="3.2" fill="#1fa0dc"/>
<circle cx="533.6" cy="439.2" r="3.2" fill="#a3cd3b"/>
<circle cx="537.3" cy="462.6" r="3.2" fill="#a3cd3b"/>
<circle cx="550.7" cy="462.0" r="3.2" fill="#fcd745"/>
<circle cx="562.0" cy="460.8" r="3.2" fill="#fcd745"/>
<circle cx="568.8" cy="461.2" r="3.2" fill="#1fa0dc"/>
<circle cx="535.5" cy="471.2" r="3.2" fill="#fcd745"/>
<circle cx="573.9" cy="475.4" r="3.2" fill="#a3cd3b"/>
<circle cx="577.3" cy="478.2" r="3.2" fill="#f7901f"/>
<circle cx="568.4" cy="483.6" r="3.2" fill="#fcd745"/>
<circle cx="573.7" cy="484.0" r="3.2" fill="#fcd745"/>
<circle cx="565.4" cy="492.5" r="3.2" fill="#fcd745"/>
<circle cx="568.8" cy="495.6" r="3.2" fill="#1fa0dc"/>
<circle cx="574.9" cy="491.9" r="3.2" fill="#a87e52"/>
<circle cx="557.1" cy="494.1" r="3.2" fill="#f7901f"/>
<circle cx="530.6" cy="503.5" r="3.2" fill="#f4121a"/>
<text x="69.5" y="90.5" font-size="7.6" letter-spacing="0.3" text-anchor="middle" fill="#d9d9d9" font-weight="400" stroke="#262626" stroke-width="1.3" paint-order="stroke" dominant-baseline="central">Tenleytown</text>
<text x="293.5" y="106.3" font-size="8" letter-spacing="0.6" text-anchor="middle" fill="#d9d9d9" font-weight="400" stroke="#262626" stroke-width="1.3" paint-order="stroke" dominant-baseline="central">Petworth</text>
<text x="65" y="171.3" font-size="7.6" letter-spacing="0.4" text-anchor="middle" fill="#d9d9d9" font-weight="400" stroke="#262626" stroke-width="1.3" paint-order="stroke" dominant-baseline="central">Wesley</text>
<text x="65" y="179.8" font-size="7.6" letter-spacing="0.4" text-anchor="middle" fill="#d9d9d9" font-weight="400" stroke="#262626" stroke-width="1.3" paint-order="stroke" dominant-baseline="central">Heights</text>
<text x="101" y="221.5" font-size="7.6" letter-spacing="0.5" text-anchor="middle" fill="#d9d9d9" font-weight="400" stroke="#262626" stroke-width="1.3" paint-order="stroke" dominant-baseline="central">Glover</text>
<text x="101" y="230.2" font-size="7.6" letter-spacing="0.5" text-anchor="middle" fill="#d9d9d9" font-weight="400" stroke="#262626" stroke-width="1.3" paint-order="stroke" dominant-baseline="central">Park</text>
<text x="240.5" y="174" font-size="7.6" letter-spacing="0.4" text-anchor="middle" fill="#d9d9d9" font-weight="400" stroke="#262626" stroke-width="1.3" paint-order="stroke" dominant-baseline="central">Mt</text>
<text x="239" y="183.4" font-size="7.6" letter-spacing="0.4" text-anchor="middle" fill="#d9d9d9" font-weight="400" stroke="#262626" stroke-width="1.3" paint-order="stroke" dominant-baseline="central">Pleasant</text>
<text x="307.3" y="171.2" font-size="7.6" letter-spacing="0.5" text-anchor="middle" fill="#d9d9d9" font-weight="400" stroke="#262626" stroke-width="1.3" paint-order="stroke" dominant-baseline="central">Park View</text>
<text x="277" y="198.9" font-size="7.8" letter-spacing="0.6" text-anchor="middle" fill="#d9d9d9" font-weight="400" stroke="#262626" stroke-width="1.3" paint-order="stroke" dominant-baseline="central">Columbia</text>
<text x="277" y="209" font-size="7.8" letter-spacing="0.6" text-anchor="middle" fill="#d9d9d9" font-weight="400" stroke="#262626" stroke-width="1.3" paint-order="stroke" dominant-baseline="central">Heights</text>
<text x="326" y="243.6" font-size="7.6" letter-spacing="0.5" text-anchor="middle" fill="#d9d9d9" font-weight="400" stroke="#262626" stroke-width="1.3" paint-order="stroke" dominant-baseline="central">LeDroit</text>
<text x="326" y="251.9" font-size="7.6" letter-spacing="0.5" text-anchor="middle" fill="#d9d9d9" font-weight="400" stroke="#262626" stroke-width="1.3" paint-order="stroke" dominant-baseline="central">Park</text>
<text x="536" y="147.1" font-size="7.6" letter-spacing="0.2" text-anchor="middle" fill="#d9d9d9" font-weight="400" stroke="#262626" stroke-width="1.3" paint-order="stroke" dominant-baseline="central">Mt Rainier</text>
<text x="593" y="75" font-size="7.6" letter-spacing="0.4" text-anchor="middle" fill="#d9d9d9" font-weight="400" stroke="#262626" stroke-width="1.3" paint-order="stroke" dominant-baseline="central">Hyattsville</text>
<text x="443" y="298" font-size="7.6" letter-spacing="0.4" text-anchor="middle" fill="#d9d9d9" font-weight="400" stroke="#262626" stroke-width="1.3" paint-order="stroke" dominant-baseline="central">Trinidad</text>
<text x="199" y="275" font-size="6" letter-spacing="0.2" text-anchor="middle" fill="#d9d9d9" font-weight="400" stroke="#262626" stroke-width="1.3" paint-order="stroke" dominant-baseline="central">Rock Creek</text>
<text x="199" y="282" font-size="6" letter-spacing="0.2" text-anchor="middle" fill="#d9d9d9" font-weight="400" stroke="#262626" stroke-width="1.3" paint-order="stroke" dominant-baseline="central">&amp; Potomac</text>
<text x="199" y="289" font-size="6" letter-spacing="0.2" text-anchor="middle" fill="#d9d9d9" font-weight="400" stroke="#262626" stroke-width="1.3" paint-order="stroke" dominant-baseline="central">Parkway</text>
<text x="404.6" y="436.3" font-size="7.6" letter-spacing="0.4" text-anchor="middle" fill="#d9d9d9" font-weight="400" stroke="#262626" stroke-width="1.3" paint-order="stroke" dominant-baseline="central">Washington</text>
<text x="404.6" y="444" font-size="7.6" letter-spacing="0.4" text-anchor="middle" fill="#d9d9d9" font-weight="400" stroke="#262626" stroke-width="1.3" paint-order="stroke" dominant-baseline="central">Navy Yard</text>
<text x="498" y="358" font-size="6.4" letter-spacing="0.2" text-anchor="middle" fill="#d9d9d9" font-weight="400" stroke="#262626" stroke-width="1.3" paint-order="stroke" dominant-baseline="central">Anacostia</text>
<text x="498" y="365" font-size="6.4" letter-spacing="0.2" text-anchor="middle" fill="#d9d9d9" font-weight="400" stroke="#262626" stroke-width="1.3" paint-order="stroke" dominant-baseline="central">Park,</text>
<text x="498" y="372" font-size="6.4" letter-spacing="0.2" text-anchor="middle" fill="#d9d9d9" font-weight="400" stroke="#262626" stroke-width="1.3" paint-order="stroke" dominant-baseline="central">Section F</text>
<text x="498" y="418" font-size="6.4" letter-spacing="0.2" text-anchor="middle" fill="#d9d9d9" font-weight="400" stroke="#262626" stroke-width="1.3" paint-order="stroke" dominant-baseline="central">Anacostia</text>
<text x="498" y="425" font-size="6.4" letter-spacing="0.2" text-anchor="middle" fill="#d9d9d9" font-weight="400" stroke="#262626" stroke-width="1.3" paint-order="stroke" dominant-baseline="central">Park,</text>
<text x="498" y="432" font-size="6.4" letter-spacing="0.2" text-anchor="middle" fill="#d9d9d9" font-weight="400" stroke="#262626" stroke-width="1.3" paint-order="stroke" dominant-baseline="central">Section E</text>
<text x="572" y="272.4" font-size="6.4" letter-spacing="0.2" text-anchor="middle" fill="#d9d9d9" font-weight="400" stroke="#262626" stroke-width="1.3" paint-order="stroke" dominant-baseline="central">Anacostia</text>
<text x="572" y="279.5" font-size="6.4" letter-spacing="0.2" text-anchor="middle" fill="#d9d9d9" font-weight="400" stroke="#262626" stroke-width="1.3" paint-order="stroke" dominant-baseline="central">Park,</text>
<text x="572" y="287" font-size="6.4" letter-spacing="0.2" text-anchor="middle" fill="#d9d9d9" font-weight="400" stroke="#262626" stroke-width="1.3" paint-order="stroke" dominant-baseline="central">Section G</text>
<text x="292.5" y="466.75" font-size="6.4" letter-spacing="0.2" text-anchor="middle" fill="#d9d9d9" font-weight="400" stroke="#262626" stroke-width="1.3" paint-order="stroke" dominant-baseline="central">East Potomac</text>
<text x="292.5" y="473.6" font-size="6.4" letter-spacing="0.2" text-anchor="middle" fill="#d9d9d9" font-weight="400" stroke="#262626" stroke-width="1.3" paint-order="stroke" dominant-baseline="central">Park</text>
<text x="445.5" y="481.75" font-size="7.2" letter-spacing="0.2" text-anchor="middle" fill="#d9d9d9" font-weight="400" stroke="#262626" stroke-width="1.3" paint-order="stroke" dominant-baseline="central">Anacostia</text>
<text x="72.3" y="499.5" font-size="7.8" letter-spacing="0.5" text-anchor="middle" fill="#d9d9d9" font-weight="400" stroke="#262626" stroke-width="1.3" paint-order="stroke" dominant-baseline="central">Arlington</text>
<text x="269.5" y="368.5" font-size="13" letter-spacing="0.55" text-anchor="middle" fill="#e8e8e8" font-weight="400" stroke="#262626" stroke-width="1.3" paint-order="stroke" dominant-baseline="central">Washington</text>
</svg>
<!-- legend -->
<div class="abs" style="left:10px;top:248px;width:190px;height:183px;background:#fcfcfb"></div>
<div class="t" style="left:20px;top:257px;font-size:9.2px;line-height:11px;color:#3a3a3a;-webkit-text-stroke:0.3px #3a3a3a;letter-spacing:-0.05px">Crime Incidents in the Last 30 Days -<br>Crime Incidents in the Last 30 Days</div>
<div class="abs" style="left:29px;top:284px">
 <div class="li"><i style="background:#fcd745"></i>THEFT/OTHER</div>
 <div class="li"><i style="background:#1fa0dc"></i>THEFT F/AUTO</div>
 <div class="li"><i style="background:#a3cd3b"></i>MOTOR VEHICLE THEFT</div>
 <div class="li"><i style="background:#9b51ad"></i>ROBBERY</div>
 <div class="li"><i style="background:#fcd745"></i>BURGLARY</div>
 <div class="li"><i style="background:#f4121a"></i>HOMICIDE</div>
 <div class="li"><i style="background:#a87e52"></i>SEX ABUSE</div>
 <div class="li"><i style="background:#f7901f"></i>ASSAULT W/DANGEROUS WEAPON</div>
</div>
<!-- controls -->
<div class="ctl" style="top:311px"><svg style="left:6px;top:5px" width="10" height="10"><circle cx="4" cy="4" r="3" stroke="#555" fill="none"/><path d="M6.2 6.2 L9 9" stroke="#555"/></svg></div>
<div class="ctl" style="top:337px"><svg style="left:5px;top:5px" width="11" height="10"><path d="M1 1h9v6h-9z M4 9h3" stroke="#555" fill="none"/></svg></div>
<div class="ctl" style="top:364px"><svg style="left:5px;top:4px" width="11" height="12"><path d="M1 5.5 L5.5 1 L10 5.5 M2 5v6h7v-6 M4.5 11v-3h2v3" stroke="#555" fill="none"/></svg></div>
<div class="ctl" style="top:391px;height:21px;border-bottom:1px solid #ddd"><svg style="left:5px;top:5px" width="11" height="11"><path d="M5.5 0.5v10 M0.5 5.5h10" stroke="#555" fill="none"/></svg></div>
<div class="ctl" style="top:411px"><svg style="left:5px;top:9px" width="11" height="2"><path d="M0.5 1h10" stroke="#555" fill="none"/></svg></div>
<!-- attribution -->
<div class="abs" style="left:0;top:440px;width:579px;height:10px;background:rgba(235,235,235,0.88)"></div>
<div class="t" style="left:4px;top:441px;font-size:7.3px;line-height:9px;color:#6a6a6a">DCGIS, M-NCPPC, VGIN, Esri, HERE, Garmin, SafeGraph, GeoTechnologies, Inc, METI/NASA, USGS, EPA, NPS, USDA</div>
<div class="t" style="left:521px;top:441px;font-size:7.5px;line-height:9px;color:#6a6a6a">Powered by Esri</div>
<div class="abs" style="left:576px;top:0;width:3px;height:451px;background:#232323"></div>

</div>

<!-- panel -->
<div id="panel" class="abs"><div class="abs" style="left:4px;top:0;width:156px;height:451px">
  <div class="abs" style="left:-3px;top:1px;width:20px;height:63px;border:1px solid #2f7fd0;background:#f1f1f1"></div>
  <svg style="left:4px;top:29px" width="5" height="7"><path d="M3.5 1 L1 3.5 L3.5 6" stroke="#222" fill="none" stroke-width="0.9"/></svg>
  <div class="abs" style="left:17px;top:0;width:140px;height:64px;background:#fdfdfd"></div>
  <div class="t" style="left:26px;top:11px;font-size:10.3px;color:#3c3c3c">Style options</div>
  <div class="t" style="left:26px;top:25px;font-size:9px;line-height:10px;color:#6e6e6e">Crime Incidents in the Last 30<br>Days - Crime Incidents in the<br>Last 30 Days</div>
  <div class="abs" style="left:0;top:64px;width:157px;height:1px;background:#e0e0e0"></div>
  <!-- scrollbar -->
  <div class="abs" style="left:146px;top:66px;width:10px;height:356px;background:#ececec"></div>
  <div class="abs" style="left:147px;top:75px;width:8px;height:225px;background:#c9c9c9"></div>
  <svg style="left:148px;top:68px" width="6" height="4"><path d="M0.5 3.5 L3 1 L5.5 3.5" stroke="#888" fill="none"/></svg>
  <svg style="left:148px;top:412px" width="6" height="4"><path d="M0 0 L6 0 L3 3 Z" fill="#555"/></svg>
  <!-- content -->
  <div class="t" style="left:4.5px;top:78px;font-size:9px;color:#353535;-webkit-text-stroke:0.1px #353535">Types (Unique symbols)</div>
  <svg style="left:126px;top:81px" width="8" height="5"><path d="M0.5 4 L4 0.8 L7.5 4" stroke="#777" fill="none"/></svg>
  <div class="t" style="left:4px;top:107px;font-size:8.8px;color:#5a5a5a">Symbol style</div>
  <div class="abs" style="left:2px;top:118px;width:138px;height:20px;border:1px solid #e2e2e2;background:#fff"></div>
  <div class="abs" style="left:7px;top:123px;height:10px;width:111px;display:flex">
    <div style="flex:1;background:#fdd34d"></div><div style="flex:1;background:#1f9fd8"></div><div style="flex:1;background:#9dc43a"></div><div style="flex:1;background:#9a56a8"></div><div style="flex:1;background:#fcd93e"></div><div style="flex:1;background:#f5141b"></div><div style="flex:1;background:#a5824e"></div><div style="flex:1;background:#f69220"></div>
  </div>
  <svg style="left:125px;top:122px" width="11" height="12"><path d="M1 11 L2 8 L9 1 L10.5 2.5 L3.5 9.5 Z M1 11 L3.5 9.5" stroke="#444" fill="none" stroke-width="1"/></svg>
  <div class="t" style="left:4px;top:146px;font-size:8.85px;line-height:10.5px;color:#5a5a5a">Display features by value<br>order</div>
  <div class="abs" style="left:125px;top:153px;width:15px;height:7px;border:1px solid #9a9a9a;border-radius:4px;background:#f4f4f4"></div>
  <div class="abs" style="left:125px;top:153px;width:7px;height:7px;border:1px solid #666;border-radius:50%;background:#fff"></div>
  <div class="t" style="left:4px;top:180px;font-size:8.5px;color:#3a3a3a;-webkit-text-stroke:0.3px #3a3a3a">OFFENSE</div>
  <!-- list -->
  <div class="abs" style="left:3px;top:194px;width:137px;height:240px;border:1px solid #e4e4e4;background:#fbfbfb"></div>
  <div class="abs" style="left:4px;top:217px;width:135px;height:1px;background:#e6e6e6"></div>
  <svg style="left:9.5px;top:202px" width="5" height="9" fill="#b8b8b8"><rect x="0" y="0" width="1.5" height="1.5"/><rect x="3" y="0" width="1.5" height="1.5"/><rect x="0" y="3.5" width="1.5" height="1.5"/><rect x="3" y="3.5" width="1.5" height="1.5"/><rect x="0" y="7" width="1.5" height="1.5"/><rect x="3" y="7" width="1.5" height="1.5"/></svg>
  <div class="t" style="left:22px;top:203px;font-size:8px;font-style:italic;color:#b0b0b0">Title</div>
  <div class="t" style="left:98px;top:202px;width:20px;text-align:right;font-size:8.4px;color:#555">2513</div>
  <svg style="left:123px;top:201px" width="10" height="10"><circle cx="5" cy="5" r="4.4" stroke="#555" fill="none"/><path d="M5 2.5v5M2.5 5h5" stroke="#555"/></svg>
  <svg style="left:9.5px;top:231px" width="5" height="9" fill="#b8b8b8"><rect x="0" y="0" width="1.5" height="1.5"/><rect x="3" y="0" width="1.5" height="1.5"/><rect x="0" y="3.5" width="1.5" height="1.5"/><rect x="3" y="3.5" width="1.5" height="1.5"/><rect x="0" y="7" width="1.5" height="1.5"/><rect x="3" y="7" width="1.5" height="1.5"/></svg>
  <div class="abs" style="left:23px;top:229px;width:12px;height:12px;border-radius:50%;background:#fdd34d"></div>
  <div class="t" style="left:46px;top:221.5px;font-size:8.4px;line-height:13px;color:#626262;letter-spacing:0.05px">THEFT/OT<br>HER</div>
  <div class="t" style="left:98px;top:231px;width:20px;text-align:right;font-size:8.4px;color:#555">1157</div>
  <svg style="left:126px;top:231px" width="5" height="9"><path d="M2.5 8.5 L2.5 1 M0.8 2.5 L2.5 0.8 L3.5 1.6" stroke="#444" fill="none" stroke-width="1"/></svg>
  <svg style="left:9.5px;top:265px" width="5" height="9" fill="#b8b8b8"><rect x="0" y="0" width="1.5" height="1.5"/><rect x="3" y="0" width="1.5" height="1.5"/><rect x="0" y="3.5" width="1.5" height="1.5"/><rect x="3" y="3.5" width="1.5" height="1.5"/><rect x="0" y="7" width="1.5" height="1.5"/><rect x="3" y="7" width="1.5" height="1.5"/></svg>
  <div class="abs" style="left:23px;top:263px;width:12px;height:12px;border-radius:50%;background:#1f9fd8"></div>
  <div class="t" style="left:46px;top:255.5px;font-size:8.4px;line-height:13px;color:#626262;letter-spacing:0.05px">THEFT F/A<br>UTO</div>
  <div class="t" style="left:98px;top:265px;width:20px;text-align:right;font-size:8.4px;color:#555">778</div>
  <svg style="left:126px;top:265px" width="5" height="9"><path d="M2.5 8.5 L2.5 1 M0.8 2.5 L2.5 0.8 L3.5 1.6" stroke="#444" fill="none" stroke-width="1"/></svg>
  <svg style="left:9.5px;top:306px" width="5" height="9" fill="#b8b8b8"><rect x="0" y="0" width="1.5" height="1.5"/><rect x="3" y="0" width="1.5" height="1.5"/><rect x="0" y="3.5" width="1.5" height="1.5"/><rect x="3" y="3.5" width="1.5" height="1.5"/><rect x="0" y="7" width="1.5" height="1.5"/><rect x="3" y="7" width="1.5" height="1.5"/></svg>
  <div class="abs" style="left:23px;top:304px;width:12px;height:12px;border-radius:50%;background:#9dc43a"></div>
  <div class="t" style="left:46px;top:290.0px;font-size:8.4px;line-height:13px;color:#626262;letter-spacing:0.05px">MOTOR VE<br>HICLE THE<br>FT</div>
  <div class="t" style="left:98px;top:306px;width:20px;text-align:right;font-size:8.4px;color:#555">192</div>
  <svg style="left:126px;top:306px" width="5" height="9"><path d="M2.5 8.5 L2.5 1 M0.8 2.5 L2.5 0.8 L3.5 1.6" stroke="#444" fill="none" stroke-width="1"/></svg>
  <svg style="left:9.5px;top:342px" width="5" height="9" fill="#b8b8b8"><rect x="0" y="0" width="1.5" height="1.5"/><rect x="3" y="0" width="1.5" height="1.5"/><rect x="0" y="3.5" width="1.5" height="1.5"/><rect x="3" y="3.5" width="1.5" height="1.5"/><rect x="0" y="7" width="1.5" height="1.5"/><rect x="3" y="7" width="1.5" height="1.5"/></svg>
  <div class="abs" style="left:23px;top:340px;width:12px;height:12px;border-radius:50%;background:#9a56a8"></div>
  <div class="t" style="left:46px;top:339.0px;font-size:8.4px;line-height:13px;color:#626262;letter-spacing:0.05px">ROBBERY</div>
  <div class="t" style="left:98px;top:342px;width:20px;text-align:right;font-size:8.4px;color:#555">141</div>
  <svg style="left:126px;top:342px" width="5" height="9"><path d="M2.5 8.5 L2.5 1 M0.8 2.5 L2.5 0.8 L3.5 1.6" stroke="#444" fill="none" stroke-width="1"/></svg>
  <svg style="left:9.5px;top:366px" width="5" height="9" fill="#b8b8b8"><rect x="0" y="0" width="1.5" height="1.5"/><rect x="3" y="0" width="1.5" height="1.5"/><rect x="0" y="3.5" width="1.5" height="1.5"/><rect x="3" y="3.5" width="1.5" height="1.5"/><rect x="0" y="7" width="1.5" height="1.5"/><rect x="3" y="7" width="1.5" height="1.5"/></svg>
  <div class="abs" style="left:23px;top:364px;width:12px;height:12px;border-radius:50%;background:#fcd93e"></div>
  <div class="t" style="left:46px;top:363.0px;font-size:8.4px;line-height:13px;color:#626262;letter-spacing:0.05px">BURGLARY</div>
  <div class="t" style="left:98px;top:366px;width:20px;text-align:right;font-size:8.4px;color:#555">89</div>
  <svg style="left:126px;top:366px" width="5" height="9"><path d="M2.5 8.5 L2.5 1 M0.8 2.5 L2.5 0.8 L3.5 1.6" stroke="#444" fill="none" stroke-width="1"/></svg>
  <svg style="left:9.5px;top:391px" width="5" height="9" fill="#b8b8b8"><rect x="0" y="0" width="1.5" height="1.5"/><rect x="3" y="0" width="1.5" height="1.5"/><rect x="0" y="3.5" width="1.5" height="1.5"/><rect x="3" y="3.5" width="1.5" height="1.5"/><rect x="0" y="7" width="1.5" height="1.5"/><rect x="3" y="7" width="1.5" height="1.5"/></svg>
  <div class="abs" style="left:23px;top:389px;width:12px;height:12px;border-radius:50%;background:#f5141b"></div>
  <div class="t" style="left:46px;top:388.0px;font-size:8.4px;line-height:13px;color:#626262;letter-spacing:0.05px">HOMICIDE</div>
  <div class="t" style="left:98px;top:391px;width:20px;text-align:right;font-size:8.4px;color:#555">16</div>
  <svg style="left:126px;top:391px" width="5" height="9"><path d="M2.5 8.5 L2.5 1 M0.8 2.5 L2.5 0.8 L3.5 1.6" stroke="#444" fill="none" stroke-width="1"/></svg>
  <svg style="left:9.5px;top:415px" width="5" height="9" fill="#b8b8b8"><rect x="0" y="0" width="1.5" height="1.5"/><rect x="3" y="0" width="1.5" height="1.5"/><rect x="0" y="3.5" width="1.5" height="1.5"/><rect x="3" y="3.5" width="1.5" height="1.5"/><rect x="0" y="7" width="1.5" height="1.5"/><rect x="3" y="7" width="1.5" height="1.5"/></svg>
  <div class="abs" style="left:23px;top:413px;width:12px;height:12px;border-radius:50%;background:#a5824e"></div>
  <div class="t" style="left:46px;top:412.0px;font-size:8.4px;line-height:13px;color:#626262;letter-spacing:0.05px">SEX ABUSE</div>
  <div class="t" style="left:98px;top:415px;width:20px;text-align:right;font-size:8.4px;color:#555">10</div>
  <svg style="left:126px;top:415px" width="5" height="9"><path d="M2.5 8.5 L2.5 1 M0.8 2.5 L2.5 0.8 L3.5 1.6" stroke="#444" fill="none" stroke-width="1"/></svg>
  <svg style="left:84px;top:283px" width="14" height="18" viewBox="0 0 14 18"><path d="M4.5 11 L4.5 2 Q5.5 0.8 6.5 2 L6.6 8 L6.8 5.2 Q7.8 4.6 8.6 5.4 L8.7 6.6 Q9.8 6 10.6 7 L10.7 8 Q11.8 7.6 12.3 8.7 L12.3 12.5 Q12 16.5 8.8 17 L6.5 17 Q4.5 16.5 3.5 14.5 L1.5 11.5 Q1.6 10.3 2.6 10.4 Z" fill="#fff" stroke="#111" stroke-width="0.9" stroke-linejoin="round"/></svg>
  <!-- footer -->
  <div class="abs" style="left:0;top:420px;width:157px;height:31px;background:#fcfcfc;border-top:1px solid #ececec"></div>
  <div class="abs" style="left:2px;top:425px;width:75px;height:20px;background:#0a78c8"></div>
  <div class="t" style="left:28px;top:430px;font-size:9.5px;color:#fff">Done</div>
  <div class="abs" style="left:76px;top:425px;width:75px;height:20px;border:1px solid #2a80cc;background:#fff"></div>
  <div class="t" style="left:99px;top:431px;font-size:9.3px;color:#2c7bc4">Cancel</div>
</div></div>

<!-- right toolbar -->
<div id="rtb" class="abs">
  <svg style="left:9px;top:11px" width="12" height="11"><path class="ri" d="M1 2h10 M1 5.5h10 M1 9h10"/><circle cx="8" cy="2" r="1.3" fill="#fff" stroke="#444"/><circle cx="4" cy="5.5" r="1.3" fill="#fff" stroke="#444"/><circle cx="7" cy="9" r="1.3" fill="#fff" stroke="#444"/></svg>
  <div class="abs" style="left:0;top:31px;width:31px;height:30px;background:#e9e9e9"></div>
  <svg style="left:9px;top:40px" width="12" height="12"><circle class="ri" cx="4.5" cy="4" r="3"/><path class="ri" d="M6 5h5v5h-5 M1 11 L4.5 6 L8 11"/></svg>
  <svg style="left:10px;top:71px" width="10" height="11"><path class="ri" d="M0.5 1h9 M1 2.5l3 3.5v4.5h2v-4.5l3-3.5z"/></svg>
  <svg style="left:9px;top:101px" width="12" height="12"><path class="ri" d="M7 3 Q7.4 6.2 10.5 6.5 Q7.4 6.8 7 10 Q6.6 6.8 3.5 6.5 Q6.6 6.2 7 3 Z M2.5 1.5v3 M1 3h3 M2.5 8.5v2 M1.5 9.5h2" stroke-width="0.8"/></svg>
  <svg style="left:9px;top:131px" width="12" height="12"><path class="ri" d="M1 2h4v3h-4z M8 1l3 3l-3 3 M5 3.5h3 M3 5v5l4 1"/></svg>
  <svg style="left:9px;top:162px" width="12" height="12"><path class="ri" d="M1 1h10v8h-4l-2 2v-2h-4z M6 3v4 M4.5 5h3"/></svg>
  <svg style="left:9px;top:192px" width="12" height="12"><path class="ri" d="M3 1h6 M3 4h6 M3 7h6 M1 10h10" /><path d="M1 11h10" stroke="#444" stroke-width="1.5"/></svg>
  <svg style="left:9px;top:222px" width="12" height="12"><path class="ri" d="M2 8l6-6l3 3l-6 6h-2z M4 6l3 3"/></svg>
  <svg style="left:9px;top:251px" width="12" height="13"><path class="ri" d="M2 1v9h2 M5 5v5h6 M7 7a2 2 0 1 0 4 0 a2 2 0 1 0 -4 0"/></svg>
  <div class="rsep" style="top:273px"></div>
  <svg style="left:9px;top:283px" width="12" height="12"><path class="ri" d="M4 3a2 2 0 1 1 4 0 M2 6h8 M1 11l4-5h2l4 5z"/></svg>
  <div class="rsep" style="top:304px"></div>
  <svg style="left:9px;top:314px" width="12" height="12"><path class="ri" d="M2 9l7-7l2 2l-7 7h-2z M1 4l3 1 M3 1l1 3"/></svg>
  <div class="rsep" style="top:335px"></div>
  <svg style="left:9px;top:344px" width="12" height="12"><path class="ri" d="M1.5 10.5 L6.5 5.5 M6.5 5.5 Q5.5 2.5 7.5 1.5 Q9 0.8 10 1.2 L8.3 3 L9 3.7 L10.8 2 Q11.2 3 10.5 4.5 Q9.5 6.5 6.5 5.5 M1.5 10.5 L0.8 11.2" stroke="#555"/></svg>
  <svg style="left:10px;top:431px" width="10" height="8"><path class="ri" d="M4.5 1l-3 3l3 3 M8.5 1l-3 3l3 3" stroke="#666"/></svg>
</div>
</body></html>
